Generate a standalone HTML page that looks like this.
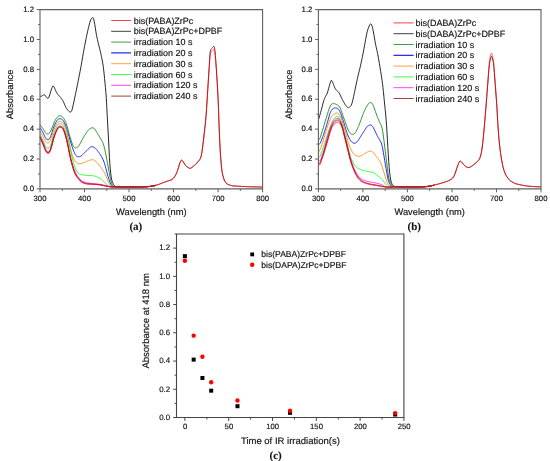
<!DOCTYPE html>
<html><head><meta charset="utf-8"><title>Absorbance</title>
<style>html,body{margin:0;padding:0;background:#fff}svg{display:block}text{font-family:"Liberation Sans",Arial,sans-serif;fill:#111111;stroke:#111111;stroke-width:0.16px;text-rendering:geometricPrecision}.cap{font-family:"Liberation Serif","Times New Roman",serif;font-weight:bold;font-size:11px;fill:#111;stroke-width:0.1px}</style></head><body>
<svg width="550" height="461" viewBox="0 0 550 461">
<rect width="550" height="461" fill="#fff"/>
<g>
<path d="M40.00 96.37 L40.45 96.37 L40.89 96.31 L41.34 96.21 L41.78 96.07 L42.23 95.83 L42.67 95.48 L43.12 95.13 L43.56 94.88 L44.01 94.79 L44.45 94.90 L44.90 95.17 L45.34 95.66 L45.79 96.31 L46.23 96.98 L46.68 97.56 L47.12 97.98 L47.57 98.25 L48.01 98.30 L48.46 97.98 L48.90 97.21 L49.35 96.07 L49.79 94.66 L50.24 93.10 L50.68 91.54 L51.13 90.10 L51.58 88.83 L52.02 87.68 L52.47 86.68 L52.91 86.02 L53.36 86.08 L53.80 86.67 L54.25 87.43 L54.69 88.32 L55.14 89.33 L55.58 90.41 L56.03 91.45 L56.47 92.34 L56.92 93.07 L57.36 93.73 L57.81 94.33 L58.25 94.88 L58.70 95.38 L59.14 95.84 L59.59 96.29 L60.03 96.75 L60.48 97.26 L60.92 97.83 L61.37 98.44 L61.81 99.09 L62.26 99.79 L62.71 100.52 L63.15 101.29 L63.60 102.16 L64.04 103.16 L64.49 104.24 L64.93 105.32 L65.38 106.34 L65.82 107.25 L66.27 108.03 L66.71 108.72 L67.16 109.34 L67.60 109.91 L68.05 110.45 L68.49 110.98 L68.94 111.43 L69.38 111.76 L69.83 111.96 L70.27 112.03 L70.72 111.96 L71.16 111.58 L71.61 110.84 L72.05 109.66 L72.50 107.99 L72.94 106.05 L73.39 104.06 L73.84 102.03 L74.28 99.96 L74.73 97.85 L75.17 95.70 L75.62 93.54 L76.06 91.38 L76.51 89.21 L76.95 87.04 L77.40 84.85 L77.84 82.65 L78.29 80.43 L78.73 78.20 L79.18 75.94 L79.62 73.66 L80.07 71.36 L80.51 69.04 L80.96 66.70 L81.40 64.26 L81.85 61.71 L82.29 59.08 L82.74 56.44 L83.18 53.84 L83.63 51.34 L84.07 48.93 L84.52 46.57 L84.97 44.24 L85.41 41.97 L85.86 39.73 L86.30 37.54 L86.75 35.39 L87.19 33.31 L87.64 31.32 L88.08 29.40 L88.53 27.54 L88.97 25.70 L89.42 23.95 L89.86 22.35 L90.31 20.93 L90.75 19.79 L91.20 18.94 L91.64 18.25 L92.09 17.74 L92.53 17.52 L92.98 17.62 L93.42 18.35 L93.87 19.82 L94.31 21.88 L94.76 24.35 L95.20 27.17 L95.65 30.11 L96.10 32.94 L96.54 35.39 L96.99 37.53 L97.43 39.58 L97.88 41.55 L98.32 43.45 L98.77 45.27 L99.21 47.03 L99.66 48.75 L100.10 50.50 L100.55 52.31 L100.99 54.28 L101.44 56.41 L101.88 58.64 L102.33 60.95 L102.77 63.43 L103.22 66.35 L103.66 69.81 L104.11 73.90 L104.55 78.46 L105.00 83.12 L105.44 87.53 L105.89 92.37 L106.33 98.57 L106.78 106.73 L107.23 115.68 L107.67 123.96 L108.12 131.94 L108.56 140.00 L109.01 149.06 L109.45 157.40 L109.90 164.35 L110.34 169.77 L110.79 173.96 L111.23 177.23 L111.68 179.61 L112.12 181.13 L112.57 182.30 L113.01 183.40 L113.46 184.36 L113.90 185.13 L114.35 185.63 L114.79 185.94 L115.24 186.24 L115.68 186.51 L116.13 186.73 L116.57 186.85 L117.02 186.86 L117.46 186.87 L117.91 186.87 L118.36 186.88 L118.80 186.88 L119.25 186.89 L119.69 186.89 L120.14 186.89 L120.58 186.90 L121.03 186.90 L121.47 186.91 L121.92 186.91 L122.36 186.91 L122.81 186.92 L123.25 186.92 L123.70 186.92 L124.14 186.93 L124.59 186.93 L125.03 186.93 L125.48 186.93 L125.92 186.94 L126.37 186.94 L126.81 186.94 L127.26 186.94 L127.70 186.94 L128.15 186.94 L128.59 186.94 L129.04 186.93 L129.49 186.93 L129.93 186.93 L130.38 186.93 L130.82 186.93 L131.27 186.93 L131.71 186.92 L132.16 186.92 L132.60 186.92 L133.05 186.92 L133.49 186.92 L133.94 186.91 L134.38 186.91 L134.83 186.91 L135.27 186.91 L135.72 186.91 L136.16 186.90 L136.61 186.90 L137.05 186.90 L137.50 186.90 L137.94 186.89 L138.39 186.89 L138.83 186.89 L139.28 186.88 L139.72 186.88 L140.17 186.88 L140.62 186.87 L141.06 186.87 L141.51 186.87 L141.95 186.86 L142.40 186.86 L142.84 186.85 L143.29 186.85 L143.73 186.84 L144.18 186.82 L144.62 186.81 L145.07 186.79 L145.51 186.77 L145.96 186.75 L146.40 186.72 L146.85 186.70 L147.29 186.66 L147.74 186.63 L148.18 186.60 L148.63 186.56 L149.07 186.51 L149.52 186.47 L149.96 186.42 L150.41 186.37 L150.85 186.32 L151.30 186.26 L151.75 186.20 L152.19 186.13 L152.64 186.06 L153.08 185.97 L153.53 185.88 L153.97 185.78 L154.42 185.68 L154.86 185.57 L155.31 185.45 L155.75 185.33" fill="none" stroke="#000000" stroke-width="0.85" stroke-linejoin="round"/>
<path d="M40.00 124.39 L40.45 124.97 L40.89 125.57 L41.34 126.19 L41.78 126.83 L42.23 127.47 L42.67 128.12 L43.12 128.81 L43.56 129.56 L44.01 130.34 L44.45 131.13 L44.90 131.89 L45.34 132.59 L45.79 133.17 L46.23 133.57 L46.68 133.83 L47.12 133.96 L47.57 133.99 L48.01 133.94 L48.46 133.79 L48.90 133.51 L49.35 133.11 L49.79 132.57 L50.24 131.91 L50.68 131.10 L51.13 130.15 L51.58 129.06 L52.02 127.88 L52.47 126.65 L52.91 125.42 L53.36 124.23 L53.80 123.13 L54.25 122.16 L54.69 121.28 L55.14 120.44 L55.58 119.65 L56.03 118.91 L56.47 118.23 L56.92 117.62 L57.36 117.08 L57.81 116.64 L58.25 116.30 L58.70 116.07 L59.14 115.93 L59.59 115.86 L60.03 115.86 L60.48 115.90 L60.92 115.98 L61.37 116.13 L61.81 116.36 L62.26 116.66 L62.71 117.05 L63.15 117.54 L63.60 118.12 L64.04 118.81 L64.49 119.60 L64.93 120.50 L65.38 121.50 L65.82 122.61 L66.27 123.82 L66.71 125.14 L67.16 126.58 L67.60 128.13 L68.05 129.75 L68.49 131.41 L68.94 133.09 L69.38 134.73 L69.83 136.32 L70.27 137.81 L70.72 139.22 L71.16 140.57 L71.61 141.86 L72.05 143.08 L72.50 144.22 L72.94 145.27 L73.39 146.17 L73.84 146.87 L74.28 147.39 L74.73 147.73 L75.17 147.92 L75.62 147.95 L76.06 147.89 L76.51 147.76 L76.95 147.58 L77.40 147.31 L77.84 146.96 L78.29 146.51 L78.73 145.95 L79.18 145.27 L79.62 144.50 L80.07 143.70 L80.51 142.86 L80.96 142.01 L81.40 141.15 L81.85 140.29 L82.29 139.44 L82.74 138.62 L83.18 137.82 L83.63 137.07 L84.07 136.34 L84.52 135.61 L84.97 134.89 L85.41 134.18 L85.86 133.48 L86.30 132.80 L86.75 132.15 L87.19 131.52 L87.64 130.92 L88.08 130.36 L88.53 129.86 L88.97 129.44 L89.42 129.09 L89.86 128.79 L90.31 128.52 L90.75 128.27 L91.20 128.06 L91.64 127.91 L92.09 127.83 L92.53 127.82 L92.98 127.87 L93.42 127.98 L93.87 128.18 L94.31 128.50 L94.76 128.97 L95.20 129.61 L95.65 130.36 L96.10 131.10 L96.54 131.85 L96.99 132.59 L97.43 133.34 L97.88 134.08 L98.32 134.83 L98.77 135.58 L99.21 136.32 L99.66 137.07 L100.10 137.81 L100.55 138.56 L100.99 139.31 L101.44 140.08 L101.88 140.87 L102.33 141.67 L102.77 142.50 L103.22 143.55 L103.66 144.89 L104.11 146.49 L104.55 148.31 L105.00 150.33 L105.44 152.48 L105.89 154.68 L106.33 156.94 L106.78 159.23 L107.23 161.56 L107.67 163.93 L108.12 166.36 L108.56 168.83 L109.01 171.30 L109.45 173.73 L109.90 176.09 L110.34 178.30 L110.79 180.30 L111.23 182.06 L111.68 183.52 L112.12 184.63 L112.57 185.43 L113.01 185.99 L113.46 186.35 L113.90 186.56 L114.35 186.71 L114.79 186.86 L115.24 186.97 L115.68 187.01 L116.13 187.01 L116.57 187.00 L117.02 187.00 L117.46 187.00 L117.91 187.00 L118.36 186.99 L118.80 186.99 L119.25 186.99 L119.69 186.99 L120.14 186.98 L120.58 186.98 L121.03 186.98 L121.47 186.98 L121.92 186.97 L122.36 186.97 L122.81 186.97 L123.25 186.97 L123.70 186.96 L124.14 186.96 L124.59 186.96 L125.03 186.96 L125.48 186.95 L125.92 186.95 L126.37 186.95 L126.81 186.95 L127.26 186.94 L127.70 186.94 L128.15 186.94 L128.59 186.94 L129.04 186.93 L129.49 186.93 L129.93 186.93 L130.38 186.93 L130.82 186.92 L131.27 186.92 L131.71 186.92 L132.16 186.92 L132.60 186.91 L133.05 186.91 L133.49 186.91 L133.94 186.91 L134.38 186.90 L134.83 186.90 L135.27 186.90 L135.72 186.90 L136.16 186.89 L136.61 186.89 L137.05 186.89 L137.50 186.89 L137.94 186.88 L138.39 186.88 L138.83 186.88 L139.28 186.88 L139.72 186.87 L140.17 186.87 L140.62 186.87 L141.06 186.87 L141.51 186.87 L141.95 186.86 L142.40 186.86 L142.84 186.86 L143.29 186.85 L143.73 186.84 L144.18 186.83 L144.62 186.81 L145.07 186.80 L145.51 186.78 L145.96 186.75 L146.40 186.73 L146.85 186.70 L147.29 186.67 L147.74 186.63 L148.18 186.60 L148.63 186.56 L149.07 186.52 L149.52 186.47 L149.96 186.42 L150.41 186.37 L150.85 186.32 L151.30 186.26 L151.75 186.20 L152.19 186.13 L152.64 186.06 L153.08 185.97 L153.53 185.88 L153.97 185.78 L154.42 185.68 L154.86 185.57 L155.31 185.45 L155.75 185.33" fill="none" stroke="#008000" stroke-width="0.85" stroke-linejoin="round"/>
<path d="M40.00 127.38 L40.45 128.13 L40.89 128.91 L41.34 129.71 L41.78 130.52 L42.23 131.33 L42.67 132.15 L43.12 132.99 L43.56 133.88 L44.01 134.80 L44.45 135.73 L44.90 136.64 L45.34 137.51 L45.79 138.27 L46.23 138.85 L46.68 139.28 L47.12 139.56 L47.57 139.72 L48.01 139.75 L48.46 139.63 L48.90 139.31 L49.35 138.80 L49.79 138.13 L50.24 137.30 L50.68 136.32 L51.13 135.19 L51.58 133.90 L52.02 132.52 L52.47 131.08 L52.91 129.65 L53.36 128.28 L53.80 127.00 L54.25 125.88 L54.69 124.88 L55.14 123.92 L55.58 123.01 L56.03 122.17 L56.47 121.40 L56.92 120.71 L57.36 120.12 L57.81 119.62 L58.25 119.24 L58.70 118.97 L59.14 118.80 L59.59 118.71 L60.03 118.69 L60.48 118.73 L60.92 118.81 L61.37 118.94 L61.81 119.16 L62.26 119.48 L62.71 119.93 L63.15 120.52 L63.60 121.24 L64.04 122.06 L64.49 122.98 L64.93 123.99 L65.38 125.09 L65.82 126.27 L66.27 127.53 L66.71 128.87 L67.16 130.27 L67.60 131.72 L68.05 133.22 L68.49 134.75 L68.94 136.29 L69.38 137.84 L69.83 139.37 L70.27 140.88 L70.72 142.35 L71.16 143.78 L71.61 145.15 L72.05 146.50 L72.50 147.80 L72.94 149.06 L73.39 150.26 L73.84 151.40 L74.28 152.47 L74.73 153.47 L75.17 154.34 L75.62 155.05 L76.06 155.63 L76.51 156.07 L76.95 156.40 L77.40 156.61 L77.84 156.72 L78.29 156.75 L78.73 156.72 L79.18 156.68 L79.62 156.61 L80.07 156.49 L80.51 156.33 L80.96 156.10 L81.40 155.79 L81.85 155.40 L82.29 154.96 L82.74 154.52 L83.18 154.07 L83.63 153.62 L84.07 153.17 L84.52 152.72 L84.97 152.27 L85.41 151.82 L85.86 151.37 L86.30 150.93 L86.75 150.49 L87.19 150.06 L87.64 149.62 L88.08 149.19 L88.53 148.77 L88.97 148.34 L89.42 147.92 L89.86 147.50 L90.31 147.15 L90.75 146.90 L91.20 146.76 L91.64 146.69 L92.09 146.70 L92.53 146.76 L92.98 146.86 L93.42 147.02 L93.87 147.23 L94.31 147.48 L94.76 147.78 L95.20 148.14 L95.65 148.54 L96.10 148.99 L96.54 149.49 L96.99 150.01 L97.43 150.56 L97.88 151.13 L98.32 151.72 L98.77 152.34 L99.21 152.96 L99.66 153.61 L100.10 154.28 L100.55 154.98 L100.99 155.70 L101.44 156.46 L101.88 157.25 L102.33 158.07 L102.77 158.93 L103.22 159.90 L103.66 161.00 L104.11 162.23 L104.55 163.58 L105.00 165.05 L105.44 166.64 L105.89 168.35 L106.33 170.10 L106.78 171.84 L107.23 173.50 L107.67 175.06 L108.12 176.56 L108.56 178.02 L109.01 179.44 L109.45 180.80 L109.90 182.04 L110.34 183.16 L110.79 184.12 L111.23 184.91 L111.68 185.52 L112.12 185.97 L112.57 186.26 L113.01 186.48 L113.46 186.69 L113.90 186.85 L114.35 186.97 L114.79 187.01 L115.24 187.01 L115.68 187.00 L116.13 187.00 L116.57 187.00 L117.02 187.00 L117.46 187.00 L117.91 186.99 L118.36 186.99 L118.80 186.99 L119.25 186.99 L119.69 186.98 L120.14 186.98 L120.58 186.98 L121.03 186.98 L121.47 186.97 L121.92 186.97 L122.36 186.97 L122.81 186.97 L123.25 186.97 L123.70 186.96 L124.14 186.96 L124.59 186.96 L125.03 186.96 L125.48 186.95 L125.92 186.95 L126.37 186.95 L126.81 186.95 L127.26 186.94 L127.70 186.94 L128.15 186.94 L128.59 186.94 L129.04 186.93 L129.49 186.93 L129.93 186.93 L130.38 186.93 L130.82 186.92 L131.27 186.92 L131.71 186.92 L132.16 186.92 L132.60 186.91 L133.05 186.91 L133.49 186.91 L133.94 186.91 L134.38 186.91 L134.83 186.90 L135.27 186.90 L135.72 186.90 L136.16 186.90 L136.61 186.89 L137.05 186.89 L137.50 186.89 L137.94 186.89 L138.39 186.88 L138.83 186.88 L139.28 186.88 L139.72 186.88 L140.17 186.87 L140.62 186.87 L141.06 186.87 L141.51 186.87 L141.95 186.86 L142.40 186.86 L142.84 186.86 L143.29 186.85 L143.73 186.84 L144.18 186.83 L144.62 186.81 L145.07 186.80 L145.51 186.78 L145.96 186.75 L146.40 186.73 L146.85 186.70 L147.29 186.67 L147.74 186.63 L148.18 186.60 L148.63 186.56 L149.07 186.52 L149.52 186.47 L149.96 186.42 L150.41 186.37 L150.85 186.32 L151.30 186.26 L151.75 186.20 L152.19 186.13 L152.64 186.06 L153.08 185.97 L153.53 185.88 L153.97 185.78 L154.42 185.68 L154.86 185.57 L155.31 185.45 L155.75 185.33" fill="none" stroke="#0000ff" stroke-width="0.85" stroke-linejoin="round"/>
<path d="M40.00 131.10 L40.45 131.91 L40.89 132.73 L41.34 133.55 L41.78 134.38 L42.23 135.20 L42.67 136.02 L43.12 136.85 L43.56 137.70 L44.01 138.55 L44.45 139.40 L44.90 140.25 L45.34 141.09 L45.79 141.82 L46.23 142.35 L46.68 142.71 L47.12 142.93 L47.57 143.03 L48.01 143.03 L48.46 142.90 L48.90 142.57 L49.35 142.08 L49.79 141.41 L50.24 140.58 L50.68 139.60 L51.13 138.45 L51.58 137.13 L52.02 135.71 L52.47 134.23 L52.91 132.75 L53.36 131.32 L53.80 130.01 L54.25 128.87 L54.69 127.84 L55.14 126.87 L55.58 125.94 L56.03 125.08 L56.47 124.30 L56.92 123.59 L57.36 122.97 L57.81 122.46 L58.25 122.05 L58.70 121.75 L59.14 121.56 L59.59 121.44 L60.03 121.40 L60.48 121.41 L60.92 121.49 L61.37 121.65 L61.81 121.90 L62.26 122.24 L62.71 122.67 L63.15 123.20 L63.60 123.81 L64.04 124.50 L64.49 125.29 L64.93 126.23 L65.38 127.32 L65.82 128.60 L66.27 130.10 L66.71 131.85 L67.16 133.74 L67.60 135.66 L68.05 137.61 L68.49 139.57 L68.94 141.54 L69.38 143.54 L69.83 145.56 L70.27 147.58 L70.72 149.57 L71.16 151.47 L71.61 153.10 L72.05 154.48 L72.50 155.68 L72.94 156.76 L73.39 157.78 L73.84 158.75 L74.28 159.63 L74.73 160.42 L75.17 161.11 L75.62 161.66 L76.06 162.14 L76.51 162.57 L76.95 162.95 L77.40 163.26 L77.84 163.50 L78.29 163.64 L78.73 163.69 L79.18 163.71 L79.62 163.71 L80.07 163.69 L80.51 163.65 L80.96 163.57 L81.40 163.45 L81.85 163.32 L82.29 163.18 L82.74 163.04 L83.18 162.89 L83.63 162.74 L84.07 162.58 L84.52 162.41 L84.97 162.23 L85.41 162.05 L85.86 161.85 L86.30 161.65 L86.75 161.45 L87.19 161.25 L87.64 161.05 L88.08 160.85 L88.53 160.66 L88.97 160.47 L89.42 160.30 L89.86 160.15 L90.31 160.02 L90.75 159.92 L91.20 159.84 L91.64 159.78 L92.09 159.74 L92.53 159.73 L92.98 159.76 L93.42 159.85 L93.87 160.00 L94.31 160.22 L94.76 160.49 L95.20 160.83 L95.65 161.22 L96.10 161.66 L96.54 162.15 L96.99 162.64 L97.43 163.14 L97.88 163.65 L98.32 164.17 L98.77 164.71 L99.21 165.25 L99.66 165.81 L100.10 166.36 L100.55 166.93 L100.99 167.50 L101.44 168.08 L101.88 168.67 L102.33 169.29 L102.77 169.94 L103.22 170.62 L103.66 171.34 L104.11 172.11 L104.55 172.96 L105.00 173.89 L105.44 174.85 L105.89 175.83 L106.33 176.85 L106.78 177.94 L107.23 179.07 L107.67 180.20 L108.12 181.28 L108.56 182.29 L109.01 183.18 L109.45 183.96 L109.90 184.62 L110.34 185.17 L110.79 185.62 L111.23 185.98 L111.68 186.30 L112.12 186.57 L112.57 186.78 L113.01 186.93 L113.46 187.00 L113.90 187.01 L114.35 186.94 L114.79 186.84 L115.24 186.75 L115.68 186.71 L116.13 186.72 L116.57 186.72 L117.02 186.73 L117.46 186.74 L117.91 186.74 L118.36 186.75 L118.80 186.76 L119.25 186.77 L119.69 186.78 L120.14 186.79 L120.58 186.80 L121.03 186.81 L121.47 186.82 L121.92 186.83 L122.36 186.84 L122.81 186.85 L123.25 186.86 L123.70 186.87 L124.14 186.88 L124.59 186.89 L125.03 186.89 L125.48 186.90 L125.92 186.91 L126.37 186.92 L126.81 186.92 L127.26 186.93 L127.70 186.93 L128.15 186.93 L128.59 186.93 L129.04 186.93 L129.49 186.93 L129.93 186.93 L130.38 186.93 L130.82 186.93 L131.27 186.93 L131.71 186.93 L132.16 186.93 L132.60 186.93 L133.05 186.93 L133.49 186.93 L133.94 186.93 L134.38 186.92 L134.83 186.92 L135.27 186.92 L135.72 186.92 L136.16 186.91 L136.61 186.91 L137.05 186.91 L137.50 186.91 L137.94 186.90 L138.39 186.90 L138.83 186.90 L139.28 186.89 L139.72 186.89 L140.17 186.88 L140.62 186.88 L141.06 186.88 L141.51 186.87 L141.95 186.87 L142.40 186.86 L142.84 186.85 L143.29 186.85 L143.73 186.83 L144.18 186.82 L144.62 186.81 L145.07 186.79 L145.51 186.77 L145.96 186.75 L146.40 186.72 L146.85 186.69 L147.29 186.66 L147.74 186.63 L148.18 186.59 L148.63 186.55 L149.07 186.51 L149.52 186.47 L149.96 186.42 L150.41 186.37 L150.85 186.32 L151.30 186.26 L151.75 186.20 L152.19 186.13 L152.64 186.06 L153.08 185.97 L153.53 185.88 L153.97 185.78 L154.42 185.68 L154.86 185.57 L155.31 185.45 L155.75 185.33" fill="none" stroke="#ff8000" stroke-width="0.85" stroke-linejoin="round"/>
<path d="M40.00 134.38 L40.45 135.31 L40.89 136.25 L41.34 137.19 L41.78 138.14 L42.23 139.10 L42.67 140.05 L43.12 141.01 L43.56 142.01 L44.01 143.01 L44.45 144.03 L44.90 145.03 L45.34 146.01 L45.79 146.87 L46.23 147.52 L46.68 147.99 L47.12 148.30 L47.57 148.48 L48.01 148.55 L48.46 148.45 L48.90 148.14 L49.35 147.61 L49.79 146.88 L50.24 145.94 L50.68 144.82 L51.13 143.50 L51.58 142.00 L52.02 140.39 L52.47 138.73 L52.91 137.06 L53.36 135.44 L53.80 133.93 L54.25 132.59 L54.69 131.37 L55.14 130.19 L55.58 129.06 L56.03 128.00 L56.47 127.02 L56.92 126.13 L57.36 125.35 L57.81 124.69 L58.25 124.18 L58.70 123.83 L59.14 123.61 L59.59 123.49 L60.03 123.47 L60.48 123.50 L60.92 123.57 L61.37 123.70 L61.81 123.93 L62.26 124.30 L62.71 124.83 L63.15 125.59 L63.60 126.52 L64.04 127.55 L64.49 128.68 L64.93 129.91 L65.38 131.22 L65.82 132.61 L66.27 134.06 L66.71 135.58 L67.16 137.12 L67.60 138.68 L68.05 140.29 L68.49 141.98 L68.94 143.78 L69.38 145.67 L69.83 147.62 L70.27 149.58 L70.72 151.53 L71.16 153.43 L71.61 155.30 L72.05 157.14 L72.50 158.94 L72.94 160.71 L73.39 162.43 L73.84 164.03 L74.28 165.46 L74.73 166.76 L75.17 167.95 L75.62 169.06 L76.06 170.08 L76.51 170.99 L76.95 171.77 L77.40 172.40 L77.84 172.92 L78.29 173.38 L78.73 173.74 L79.18 173.98 L79.62 174.14 L80.07 174.29 L80.51 174.43 L80.96 174.56 L81.40 174.68 L81.85 174.78 L82.29 174.88 L82.74 174.98 L83.18 175.07 L83.63 175.14 L84.07 175.18 L84.52 175.22 L84.97 175.26 L85.41 175.29 L85.86 175.32 L86.30 175.36 L86.75 175.39 L87.19 175.41 L87.64 175.44 L88.08 175.47 L88.53 175.50 L88.97 175.53 L89.42 175.56 L89.86 175.57 L90.31 175.59 L90.75 175.60 L91.20 175.62 L91.64 175.63 L92.09 175.65 L92.53 175.68 L92.98 175.71 L93.42 175.75 L93.87 175.84 L94.31 175.96 L94.76 176.12 L95.20 176.29 L95.65 176.49 L96.10 176.68 L96.54 176.87 L96.99 177.06 L97.43 177.25 L97.88 177.45 L98.32 177.66 L98.77 177.88 L99.21 178.12 L99.66 178.37 L100.10 178.64 L100.55 178.93 L100.99 179.24 L101.44 179.57 L101.88 179.92 L102.33 180.30 L102.77 180.70 L103.22 181.10 L103.66 181.51 L104.11 181.92 L104.55 182.33 L105.00 182.74 L105.44 183.13 L105.89 183.53 L106.33 183.92 L106.78 184.31 L107.23 184.69 L107.67 185.07 L108.12 185.41 L108.56 185.70 L109.01 185.95 L109.45 186.17 L109.90 186.38 L110.34 186.57 L110.79 186.74 L111.23 186.88 L111.68 186.97 L112.12 187.01 L112.57 187.00 L113.01 186.97 L113.46 186.92 L113.90 186.86 L114.35 186.80 L114.79 186.75 L115.24 186.72 L115.68 186.71 L116.13 186.72 L116.57 186.72 L117.02 186.73 L117.46 186.74 L117.91 186.74 L118.36 186.75 L118.80 186.76 L119.25 186.77 L119.69 186.78 L120.14 186.79 L120.58 186.80 L121.03 186.81 L121.47 186.82 L121.92 186.83 L122.36 186.84 L122.81 186.85 L123.25 186.86 L123.70 186.86 L124.14 186.87 L124.59 186.88 L125.03 186.89 L125.48 186.90 L125.92 186.90 L126.37 186.91 L126.81 186.92 L127.26 186.92 L127.70 186.93 L128.15 186.93 L128.59 186.93 L129.04 186.93 L129.49 186.94 L129.93 186.94 L130.38 186.94 L130.82 186.94 L131.27 186.94 L131.71 186.94 L132.16 186.94 L132.60 186.94 L133.05 186.93 L133.49 186.93 L133.94 186.93 L134.38 186.93 L134.83 186.93 L135.27 186.92 L135.72 186.92 L136.16 186.92 L136.61 186.92 L137.05 186.91 L137.50 186.91 L137.94 186.91 L138.39 186.90 L138.83 186.90 L139.28 186.89 L139.72 186.89 L140.17 186.88 L140.62 186.88 L141.06 186.88 L141.51 186.87 L141.95 186.87 L142.40 186.86 L142.84 186.85 L143.29 186.85 L143.73 186.83 L144.18 186.82 L144.62 186.81 L145.07 186.79 L145.51 186.77 L145.96 186.75 L146.40 186.72 L146.85 186.69 L147.29 186.66 L147.74 186.63 L148.18 186.59 L148.63 186.55 L149.07 186.51 L149.52 186.47 L149.96 186.42 L150.41 186.37 L150.85 186.32 L151.30 186.26 L151.75 186.20 L152.19 186.13 L152.64 186.06 L153.08 185.97 L153.53 185.88 L153.97 185.78 L154.42 185.68 L154.86 185.57 L155.31 185.45 L155.75 185.33" fill="none" stroke="#00ff00" stroke-width="0.85" stroke-linejoin="round"/>
<path d="M40.00 136.02 L40.45 136.98 L40.89 137.96 L41.34 138.96 L41.78 139.96 L42.23 140.97 L42.67 141.99 L43.12 143.03 L43.56 144.12 L44.01 145.24 L44.45 146.36 L44.90 147.47 L45.34 148.55 L45.79 149.50 L46.23 150.27 L46.68 150.87 L47.12 151.32 L47.57 151.63 L48.01 151.83 L48.46 151.83 L48.90 151.58 L49.35 151.09 L49.79 150.36 L50.24 149.41 L50.68 148.25 L51.13 146.88 L51.58 145.33 L52.02 143.66 L52.47 141.93 L52.91 140.19 L53.36 138.52 L53.80 136.96 L54.25 135.58 L54.69 134.32 L55.14 133.10 L55.58 131.93 L56.03 130.83 L56.47 129.81 L56.92 128.89 L57.36 128.07 L57.81 127.38 L58.25 126.84 L58.70 126.46 L59.14 126.21 L59.59 126.08 L60.03 126.03 L60.48 126.03 L60.92 126.10 L61.37 126.24 L61.81 126.49 L62.26 126.87 L62.71 127.41 L63.15 128.12 L63.60 129.02 L64.04 130.07 L64.49 131.27 L64.93 132.61 L65.38 134.06 L65.82 135.62 L66.27 137.27 L66.71 139.00 L67.16 140.85 L67.60 142.85 L68.05 144.94 L68.49 147.11 L68.94 149.31 L69.38 151.50 L69.83 153.64 L70.27 155.70 L70.72 157.65 L71.16 159.43 L71.61 161.10 L72.05 162.74 L72.50 164.32 L72.94 165.83 L73.39 167.27 L73.84 168.63 L74.28 169.89 L74.73 171.04 L75.17 172.07 L75.62 172.98 L76.06 173.78 L76.51 174.52 L76.95 175.22 L77.40 175.86 L77.84 176.46 L78.29 177.02 L78.73 177.56 L79.18 178.11 L79.62 178.65 L80.07 179.17 L80.51 179.66 L80.96 180.09 L81.40 180.47 L81.85 180.78 L82.29 181.06 L82.74 181.31 L83.18 181.53 L83.63 181.74 L84.07 181.92 L84.52 182.09 L84.97 182.26 L85.41 182.43 L85.86 182.59 L86.30 182.74 L86.75 182.87 L87.19 182.96 L87.64 183.01 L88.08 183.05 L88.53 183.10 L88.97 183.14 L89.42 183.19 L89.86 183.23 L90.31 183.28 L90.75 183.32 L91.20 183.37 L91.64 183.41 L92.09 183.46 L92.53 183.50 L92.98 183.55 L93.42 183.59 L93.87 183.64 L94.31 183.68 L94.76 183.73 L95.20 183.77 L95.65 183.82 L96.10 183.86 L96.54 183.91 L96.99 183.96 L97.43 184.00 L97.88 184.05 L98.32 184.09 L98.77 184.14 L99.21 184.18 L99.66 184.24 L100.10 184.31 L100.55 184.39 L100.99 184.48 L101.44 184.59 L101.88 184.70 L102.33 184.81 L102.77 184.93 L103.22 185.05 L103.66 185.17 L104.11 185.29 L104.55 185.40 L105.00 185.51 L105.44 185.61 L105.89 185.71 L106.33 185.82 L106.78 185.92 L107.23 186.02 L107.67 186.13 L108.12 186.23 L108.56 186.33 L109.01 186.44 L109.45 186.54 L109.90 186.64 L110.34 186.74 L110.79 186.84 L111.23 186.92 L111.68 186.97 L112.12 186.98 L112.57 186.97 L113.01 186.94 L113.46 186.89 L113.90 186.84 L114.35 186.79 L114.79 186.75 L115.24 186.72 L115.68 186.71 L116.13 186.72 L116.57 186.72 L117.02 186.73 L117.46 186.74 L117.91 186.75 L118.36 186.75 L118.80 186.76 L119.25 186.77 L119.69 186.78 L120.14 186.79 L120.58 186.80 L121.03 186.81 L121.47 186.81 L121.92 186.82 L122.36 186.83 L122.81 186.84 L123.25 186.85 L123.70 186.86 L124.14 186.87 L124.59 186.88 L125.03 186.88 L125.48 186.89 L125.92 186.90 L126.37 186.90 L126.81 186.91 L127.26 186.92 L127.70 186.92 L128.15 186.93 L128.59 186.93 L129.04 186.93 L129.49 186.94 L129.93 186.94 L130.38 186.94 L130.82 186.94 L131.27 186.94 L131.71 186.94 L132.16 186.94 L132.60 186.94 L133.05 186.94 L133.49 186.94 L133.94 186.94 L134.38 186.94 L134.83 186.93 L135.27 186.93 L135.72 186.93 L136.16 186.93 L136.61 186.92 L137.05 186.92 L137.50 186.91 L137.94 186.91 L138.39 186.91 L138.83 186.90 L139.28 186.90 L139.72 186.89 L140.17 186.89 L140.62 186.88 L141.06 186.88 L141.51 186.87 L141.95 186.87 L142.40 186.86 L142.84 186.85 L143.29 186.85 L143.73 186.83 L144.18 186.82 L144.62 186.81 L145.07 186.79 L145.51 186.77 L145.96 186.75 L146.40 186.72 L146.85 186.69 L147.29 186.66 L147.74 186.63 L148.18 186.59 L148.63 186.55 L149.07 186.51 L149.52 186.47 L149.96 186.42 L150.41 186.37 L150.85 186.32 L151.30 186.26 L151.75 186.20 L152.19 186.13 L152.64 186.06 L153.08 185.97 L153.53 185.88 L153.97 185.78 L154.42 185.68 L154.86 185.57 L155.31 185.45 L155.75 185.33" fill="none" stroke="#ff00ff" stroke-width="0.85" stroke-linejoin="round"/>
<path d="M40.00 137.07 L40.45 138.03 L40.89 139.02 L41.34 140.01 L41.78 141.02 L42.23 142.02 L42.67 143.03 L43.12 144.06 L43.56 145.12 L44.01 146.21 L44.45 147.30 L44.90 148.38 L45.34 149.44 L45.79 150.38 L46.23 151.15 L46.68 151.76 L47.12 152.21 L47.57 152.53 L48.01 152.72 L48.46 152.72 L48.90 152.44 L49.35 151.91 L49.79 151.15 L50.24 150.17 L50.68 148.99 L51.13 147.61 L51.58 146.06 L52.02 144.39 L52.47 142.66 L52.91 140.93 L53.36 139.26 L53.80 137.71 L54.25 136.32 L54.69 135.06 L55.14 133.84 L55.58 132.67 L56.03 131.57 L56.47 130.55 L56.92 129.63 L57.36 128.82 L57.81 128.12 L58.25 127.58 L58.70 127.20 L59.14 126.96 L59.59 126.83 L60.03 126.78 L60.48 126.78 L60.92 126.84 L61.37 126.98 L61.81 127.22 L62.26 127.60 L62.71 128.14 L63.15 128.87 L63.60 129.78 L64.04 130.87 L64.49 132.11 L64.93 133.48 L65.38 134.98 L65.82 136.59 L66.27 138.28 L66.71 140.05 L67.16 141.94 L67.60 143.97 L68.05 146.12 L68.49 148.34 L68.94 150.60 L69.38 152.84 L69.83 155.03 L70.27 157.14 L70.72 159.11 L71.16 160.92 L71.61 162.61 L72.05 164.24 L72.50 165.82 L72.94 167.33 L73.39 168.76 L73.84 170.09 L74.28 171.33 L74.73 172.45 L75.17 173.46 L75.62 174.33 L76.06 175.09 L76.51 175.81 L76.95 176.47 L77.40 177.10 L77.84 177.68 L78.29 178.21 L78.73 178.73 L79.18 179.26 L79.62 179.78 L80.07 180.28 L80.51 180.75 L80.96 181.16 L81.40 181.52 L81.85 181.81 L82.29 182.07 L82.74 182.29 L83.18 182.50 L83.63 182.68 L84.07 182.84 L84.52 182.98 L84.97 183.12 L85.41 183.27 L85.86 183.41 L86.30 183.53 L86.75 183.63 L87.19 183.71 L87.64 183.75 L88.08 183.78 L88.53 183.81 L88.97 183.85 L89.42 183.88 L89.86 183.92 L90.31 183.95 L90.75 183.98 L91.20 184.02 L91.64 184.05 L92.09 184.09 L92.53 184.12 L92.98 184.15 L93.42 184.19 L93.87 184.22 L94.31 184.25 L94.76 184.29 L95.20 184.32 L95.65 184.36 L96.10 184.39 L96.54 184.42 L96.99 184.46 L97.43 184.49 L97.88 184.53 L98.32 184.56 L98.77 184.59 L99.21 184.63 L99.66 184.67 L100.10 184.73 L100.55 184.80 L100.99 184.89 L101.44 184.98 L101.88 185.08 L102.33 185.19 L102.77 185.30 L103.22 185.40 L103.66 185.51 L104.11 185.62 L104.55 185.72 L105.00 185.81 L105.44 185.90 L105.89 185.98 L106.33 186.07 L106.78 186.17 L107.23 186.26 L107.67 186.34 L108.12 186.43 L108.56 186.51 L109.01 186.59 L109.45 186.67 L109.90 186.73 L110.34 186.80 L110.79 186.85 L111.23 186.89 L111.68 186.91 L112.12 186.91 L112.57 186.89 L113.01 186.86 L113.46 186.83 L113.90 186.79 L114.35 186.76 L114.79 186.73 L115.24 186.71 L115.68 186.71 L116.13 186.72 L116.57 186.72 L117.02 186.73 L117.46 186.74 L117.91 186.74 L118.36 186.75 L118.80 186.76 L119.25 186.77 L119.69 186.78 L120.14 186.79 L120.58 186.80 L121.03 186.80 L121.47 186.81 L121.92 186.82 L122.36 186.83 L122.81 186.84 L123.25 186.85 L123.70 186.86 L124.14 186.87 L124.59 186.87 L125.03 186.88 L125.48 186.89 L125.92 186.90 L126.37 186.90 L126.81 186.91 L127.26 186.92 L127.70 186.92 L128.15 186.93 L128.59 186.93 L129.04 186.93 L129.49 186.94 L129.93 186.94 L130.38 186.94 L130.82 186.94 L131.27 186.94 L131.71 186.94 L132.16 186.94 L132.60 186.94 L133.05 186.94 L133.49 186.94 L133.94 186.94 L134.38 186.94 L134.83 186.93 L135.27 186.93 L135.72 186.93 L136.16 186.93 L136.61 186.92 L137.05 186.92 L137.50 186.91 L137.94 186.91 L138.39 186.91 L138.83 186.90 L139.28 186.90 L139.72 186.89 L140.17 186.89 L140.62 186.88 L141.06 186.88 L141.51 186.87 L141.95 186.87 L142.40 186.86 L142.84 186.85 L143.29 186.85 L143.73 186.83 L144.18 186.82 L144.62 186.81 L145.07 186.79 L145.51 186.77 L145.96 186.75 L146.40 186.72 L146.85 186.69 L147.29 186.66 L147.74 186.63 L148.18 186.59 L148.63 186.55 L149.07 186.51 L149.52 186.47 L149.96 186.42 L150.41 186.37 L150.85 186.32 L151.30 186.26 L151.75 186.20 L152.19 186.13 L152.64 186.06 L153.08 185.97 L153.53 185.88 L153.97 185.78 L154.42 185.68 L154.86 185.57 L155.31 185.45 L155.75 185.33 L156.20 185.20 L156.64 185.07 L157.09 184.93 L157.53 184.79 L157.98 184.64 L158.42 184.49 L158.87 184.34 L159.31 184.18 L159.76 184.01 L160.20 183.85 L160.65 183.67 L161.09 183.50 L161.54 183.32 L161.98 183.15 L162.43 182.97 L162.88 182.79 L163.32 182.61 L163.77 182.44 L164.21 182.26 L164.66 182.09 L165.10 181.92 L165.55 181.76 L165.99 181.61 L166.44 181.46 L166.88 181.31 L167.33 181.17 L167.77 181.03 L168.22 180.89 L168.66 180.74 L169.11 180.60 L169.55 180.46 L170.00 180.31 L170.44 180.17 L170.89 180.01 L171.33 179.85 L171.78 179.65 L172.22 179.37 L172.67 179.01 L173.11 178.58 L173.56 178.09 L174.01 177.54 L174.45 176.93 L174.90 176.28 L175.34 175.53 L175.79 174.67 L176.23 173.70 L176.68 172.65 L177.12 171.53 L177.57 170.34 L178.01 169.12 L178.46 167.75 L178.90 166.21 L179.35 164.64 L179.79 163.20 L180.24 162.01 L180.68 161.12 L181.13 160.47 L181.57 160.17 L182.02 160.30 L182.46 160.70 L182.91 161.21 L183.35 161.86 L183.80 162.63 L184.24 163.47 L184.69 164.27 L185.14 164.94 L185.58 165.49 L186.03 165.95 L186.47 166.36 L186.92 166.72 L187.36 167.04 L187.81 167.33 L188.25 167.62 L188.70 167.88 L189.14 168.10 L189.59 168.25 L190.03 168.30 L190.48 168.22 L190.92 168.05 L191.37 167.83 L191.81 167.55 L192.26 167.24 L192.70 166.90 L193.15 166.53 L193.59 166.14 L194.04 165.73 L194.48 165.32 L194.93 164.89 L195.37 164.46 L195.82 164.03 L196.27 163.59 L196.71 163.16 L197.16 162.70 L197.60 162.21 L198.05 161.69 L198.49 161.15 L198.94 160.59 L199.38 160.01 L199.83 159.43 L200.27 158.67 L200.72 157.54 L201.16 155.96 L201.61 153.88 L202.05 151.23 L202.50 148.09 L202.94 144.64 L203.39 140.94 L203.83 137.08 L204.28 133.13 L204.72 129.17 L205.17 125.19 L205.61 120.85 L206.06 115.77 L206.50 109.73 L206.95 102.95 L207.40 95.74 L207.84 88.44 L208.29 81.16 L208.73 73.97 L209.18 66.83 L209.62 59.60 L210.07 53.00 L210.51 50.22 L210.96 49.34 L211.40 48.82 L211.85 48.36 L212.29 47.84 L212.74 47.34 L213.18 46.88 L213.63 46.48 L214.07 46.28 L214.52 47.52 L214.96 50.58 L215.41 55.48 L215.85 61.50 L216.30 68.19 L216.74 75.20 L217.19 82.36 L217.63 89.98 L218.08 98.31 L218.53 109.27 L218.97 122.93 L219.42 134.03 L219.86 143.68 L220.31 152.05 L220.75 158.68 L221.20 163.91 L221.64 168.27 L222.09 171.69 L222.53 174.04 L222.98 175.81 L223.42 177.48 L223.87 178.97 L224.31 180.19 L224.76 181.05 L225.20 181.70 L225.65 182.35 L226.09 182.97 L226.54 183.50 L226.98 183.92 L227.43 184.18 L227.87 184.35 L228.32 184.52 L228.76 184.69 L229.21 184.86 L229.66 185.02 L230.10 185.18 L230.55 185.33 L230.99 185.46 L231.44 185.59 L231.88 185.70 L232.33 185.80 L232.77 185.87 L233.22 185.93 L233.66 185.97 L234.11 185.99 L234.55 186.01 L235.00 186.04 L235.44 186.06 L235.89 186.09 L236.33 186.11 L236.78 186.14 L237.22 186.16 L237.67 186.19 L238.11 186.21 L238.56 186.24 L239.00 186.26 L239.45 186.29 L239.89 186.31 L240.34 186.34 L240.79 186.36 L241.23 186.38 L241.68 186.41 L242.12 186.43 L242.57 186.45 L243.01 186.47 L243.46 186.50 L243.90 186.52 L244.35 186.54 L244.79 186.56 L245.24 186.58 L245.68 186.59 L246.13 186.61 L246.57 186.63 L247.02 186.64 L247.46 186.66 L247.91 186.67 L248.35 186.69 L248.80 186.70 L249.24 186.71 L249.69 186.72 L250.13 186.73 L250.58 186.75 L251.02 186.76 L251.47 186.77 L251.92 186.78 L252.36 186.79 L252.81 186.80 L253.25 186.82 L253.70 186.83 L254.14 186.84 L254.59 186.85 L255.03 186.86 L255.48 186.87 L255.92 186.89 L256.37 186.90 L256.81 186.91 L257.26 186.92 L257.70 186.93 L258.15 186.94 L258.59 186.95 L259.04 186.96 L259.48 186.96 L259.93 186.97 L260.37 186.98 L260.82 186.99 L261.26 186.99 L261.71 187.00 L262.15 187.00 L262.60 187.01" fill="none" stroke="#800000" stroke-width="0.85" stroke-linejoin="round"/>
<path d="M40.00 137.81 L40.45 138.76 L40.89 139.74 L41.34 140.73 L41.78 141.74 L42.23 142.76 L42.67 143.78 L43.12 144.83 L43.56 145.95 L44.01 147.10 L44.45 148.26 L44.90 149.39 L45.34 150.48 L45.79 151.43 L46.23 152.17 L46.68 152.72 L47.12 153.11 L47.57 153.35 L48.01 153.47 L48.46 153.41 L48.90 153.11 L49.35 152.59 L49.79 151.85 L50.24 150.90 L50.68 149.74 L51.13 148.37 L51.58 146.82 L52.02 145.14 L52.47 143.41 L52.91 141.68 L53.36 140.01 L53.80 138.45 L54.25 137.07 L54.69 135.81 L55.14 134.60 L55.58 133.44 L56.03 132.35 L56.47 131.34 L56.92 130.41 L57.36 129.58 L57.81 128.87 L58.25 128.30 L58.70 127.89 L59.14 127.61 L59.59 127.45 L60.03 127.38 L60.48 127.38 L60.92 127.44 L61.37 127.59 L61.81 127.86 L62.26 128.28 L62.71 128.85 L63.15 129.61 L63.60 130.55 L64.04 131.65 L64.49 132.90 L64.93 134.27 L65.38 135.76 L65.82 137.35 L66.27 139.03 L66.71 140.79 L67.16 142.68 L67.60 144.71 L68.05 146.86 L68.49 149.08 L68.94 151.34 L69.38 153.58 L69.83 155.78 L70.27 157.88 L70.72 159.86 L71.16 161.66 L71.61 163.35 L72.05 164.98 L72.50 166.56 L72.94 168.06 L73.39 169.48 L73.84 170.81 L74.28 172.04 L74.73 173.15 L75.17 174.15 L75.62 175.00 L76.06 175.75 L76.51 176.45 L76.95 177.10 L77.40 177.71 L77.84 178.28 L78.29 178.81 L78.73 179.32 L79.18 179.85 L79.62 180.36 L80.07 180.86 L80.51 181.32 L80.96 181.73 L81.40 182.08 L81.85 182.36 L82.29 182.60 L82.74 182.82 L83.18 183.00 L83.63 183.17 L84.07 183.31 L84.52 183.43 L84.97 183.55 L85.41 183.67 L85.86 183.78 L86.30 183.89 L86.75 183.97 L87.19 184.04 L87.64 184.07 L88.08 184.10 L88.53 184.13 L88.97 184.16 L89.42 184.19 L89.86 184.21 L90.31 184.23 L90.75 184.26 L91.20 184.28 L91.64 184.31 L92.09 184.34 L92.53 184.36 L92.98 184.39 L93.42 184.42 L93.87 184.45 L94.31 184.48 L94.76 184.51 L95.20 184.54 L95.65 184.57 L96.10 184.60 L96.54 184.63 L96.99 184.66 L97.43 184.70 L97.88 184.74 L98.32 184.78 L98.77 184.83 L99.21 184.88 L99.66 184.94 L100.10 185.01 L100.55 185.09 L100.99 185.16 L101.44 185.24 L101.88 185.33 L102.33 185.42 L102.77 185.50 L103.22 185.59 L103.66 185.68 L104.11 185.77 L104.55 185.85 L105.00 185.93 L105.44 186.01 L105.89 186.09 L106.33 186.17 L106.78 186.25 L107.23 186.32 L107.67 186.40 L108.12 186.48 L108.56 186.55 L109.01 186.62 L109.45 186.69 L109.90 186.76 L110.34 186.81 L110.79 186.87 L111.23 186.91 L111.68 186.92 L112.12 186.92 L112.57 186.90 L113.01 186.87 L113.46 186.84 L113.90 186.80 L114.35 186.76 L114.79 186.73 L115.24 186.71 L115.68 186.71 L116.13 186.72 L116.57 186.72 L117.02 186.73 L117.46 186.74 L117.91 186.74 L118.36 186.75 L118.80 186.76 L119.25 186.77 L119.69 186.78 L120.14 186.79 L120.58 186.79 L121.03 186.80 L121.47 186.81 L121.92 186.82 L122.36 186.83 L122.81 186.84 L123.25 186.85 L123.70 186.86 L124.14 186.87 L124.59 186.87 L125.03 186.88 L125.48 186.89 L125.92 186.90 L126.37 186.90 L126.81 186.91 L127.26 186.92 L127.70 186.92 L128.15 186.93 L128.59 186.93 L129.04 186.93 L129.49 186.94 L129.93 186.94 L130.38 186.94 L130.82 186.94 L131.27 186.94 L131.71 186.94 L132.16 186.94 L132.60 186.94 L133.05 186.94 L133.49 186.94 L133.94 186.94 L134.38 186.94 L134.83 186.93 L135.27 186.93 L135.72 186.93 L136.16 186.93 L136.61 186.92 L137.05 186.92 L137.50 186.91 L137.94 186.91 L138.39 186.91 L138.83 186.90 L139.28 186.90 L139.72 186.89 L140.17 186.89 L140.62 186.88 L141.06 186.88 L141.51 186.87 L141.95 186.87 L142.40 186.86 L142.84 186.85 L143.29 186.85 L143.73 186.83 L144.18 186.82 L144.62 186.81 L145.07 186.79 L145.51 186.77 L145.96 186.75 L146.40 186.72 L146.85 186.69 L147.29 186.66 L147.74 186.63 L148.18 186.59 L148.63 186.55 L149.07 186.51 L149.52 186.47 L149.96 186.42 L150.41 186.37 L150.85 186.32 L151.30 186.26 L151.75 186.20 L152.19 186.13 L152.64 186.06 L153.08 185.97 L153.53 185.88 L153.97 185.78 L154.42 185.68 L154.86 185.57 L155.31 185.45 L155.75 185.33" fill="none" stroke="#ff0000" stroke-width="0.85" stroke-linejoin="round"/>
<path d="M155.75 185.33 L156.20 185.20 L156.64 185.07 L157.09 184.93 L157.53 184.79 L157.98 184.64 L158.42 184.49 L158.87 184.34 L159.31 184.18 L159.76 184.01 L160.20 183.85 L160.65 183.67 L161.09 183.50 L161.54 183.32 L161.98 183.15 L162.43 182.97 L162.88 182.79 L163.32 182.61 L163.77 182.44 L164.21 182.26 L164.66 182.09 L165.10 181.92 L165.55 181.76 L165.99 181.61 L166.44 181.46 L166.88 181.31 L167.33 181.17 L167.77 181.03 L168.22 180.89 L168.66 180.74 L169.11 180.60 L169.55 180.46 L170.00 180.31 L170.44 180.17 L170.89 180.01 L171.33 179.85 L171.78 179.65 L172.22 179.37 L172.67 179.01 L173.11 178.58 L173.56 178.09 L174.01 177.54 L174.45 176.93 L174.90 176.28 L175.34 175.53 L175.79 174.67 L176.23 173.70 L176.68 172.65 L177.12 171.53 L177.57 170.34 L178.01 169.12 L178.46 167.75 L178.90 166.21 L179.35 164.64 L179.79 163.20 L180.24 162.01 L180.68 161.12 L181.13 160.47 L181.57 160.17 L182.02 160.30 L182.46 160.70 L182.91 161.21 L183.35 161.86 L183.80 162.63 L184.24 163.47 L184.69 164.27 L185.14 164.94 L185.58 165.49 L186.03 165.95 L186.47 166.36 L186.92 166.72 L187.36 167.04 L187.81 167.33 L188.25 167.62 L188.70 167.88 L189.14 168.10 L189.59 168.25 L190.03 168.30 L190.48 168.22 L190.92 168.05 L191.37 167.83 L191.81 167.55 L192.26 167.24 L192.70 166.90 L193.15 166.53 L193.59 166.14 L194.04 165.73 L194.48 165.32 L194.93 164.89 L195.37 164.46 L195.82 164.03 L196.27 163.59 L196.71 163.16 L197.16 162.70 L197.60 162.21 L198.05 161.69 L198.49 161.15 L198.94 160.59 L199.38 160.01 L199.83 159.43 L200.27 158.67 L200.72 157.54 L201.16 155.96 L201.61 153.88 L202.05 151.23 L202.50 148.09 L202.94 144.64 L203.39 140.94 L203.83 137.08 L204.28 133.13 L204.72 129.17 L205.17 125.19 L205.61 120.85 L206.06 115.75 L206.50 109.62 L206.95 102.86 L207.40 95.76 L207.84 88.20 L208.29 81.16 L208.73 74.95 L209.18 69.00 L209.62 62.82 L210.07 56.46 L210.51 53.01 L210.96 51.91 L211.40 51.68 L211.85 51.44 L212.29 50.93 L212.74 50.43 L213.18 49.97 L213.63 49.59 L214.07 49.46 L214.52 50.94 L214.96 53.92 L215.41 57.97 L215.85 63.04 L216.30 68.88 L216.74 75.20 L217.19 81.99 L217.63 89.59 L218.08 98.22 L218.53 109.44 L218.97 122.97 L219.42 134.03 L219.86 143.68 L220.31 152.05 L220.75 158.68 L221.20 163.91 L221.64 168.27 L222.09 171.69 L222.53 174.04 L222.98 175.81 L223.42 177.48 L223.87 178.97 L224.31 180.19 L224.76 181.05 L225.20 181.70 L225.65 182.35 L226.09 182.97 L226.54 183.50 L226.98 183.92 L227.43 184.18 L227.87 184.35 L228.32 184.52 L228.76 184.69 L229.21 184.86 L229.66 185.02 L230.10 185.18 L230.55 185.33 L230.99 185.46 L231.44 185.59 L231.88 185.70 L232.33 185.80 L232.77 185.87 L233.22 185.93 L233.66 185.97 L234.11 185.99 L234.55 186.01 L235.00 186.04 L235.44 186.06 L235.89 186.09 L236.33 186.11 L236.78 186.14 L237.22 186.16 L237.67 186.19 L238.11 186.21 L238.56 186.24 L239.00 186.26 L239.45 186.29 L239.89 186.31 L240.34 186.34 L240.79 186.36 L241.23 186.38 L241.68 186.41 L242.12 186.43 L242.57 186.45 L243.01 186.47 L243.46 186.50 L243.90 186.52 L244.35 186.54 L244.79 186.56 L245.24 186.58 L245.68 186.59 L246.13 186.61 L246.57 186.63 L247.02 186.64 L247.46 186.66 L247.91 186.67 L248.35 186.69 L248.80 186.70 L249.24 186.71 L249.69 186.72 L250.13 186.73 L250.58 186.75 L251.02 186.76 L251.47 186.77 L251.92 186.78 L252.36 186.79 L252.81 186.80 L253.25 186.82 L253.70 186.83 L254.14 186.84 L254.59 186.85 L255.03 186.86 L255.48 186.87 L255.92 186.89 L256.37 186.90 L256.81 186.91 L257.26 186.92 L257.70 186.93 L258.15 186.94 L258.59 186.95 L259.04 186.96 L259.48 186.96 L259.93 186.97 L260.37 186.98 L260.82 186.99 L261.26 186.99 L261.71 187.00 L262.15 187.00 L262.60 187.01" fill="none" stroke="#ff0000" stroke-width="0.85" stroke-linejoin="round" stroke-opacity="0.68"/>
<path d="M40.0 9.6H262.6V188.9H40.0Z" fill="none" stroke="#606060" stroke-width="1.1"/>
<path d="M40.0 188.90h-3.3 M40.0 173.96h-1.9 M40.0 159.02h-3.3 M40.0 144.07h-1.9 M40.0 129.13h-3.3 M40.0 114.19h-1.9 M40.0 99.25h-3.3 M40.0 84.31h-1.9 M40.0 69.37h-3.3 M40.0 54.42h-1.9 M40.0 39.48h-3.3 M40.0 24.54h-1.9 M40.0 9.60h-3.3 M40.00 188.9v3.4 M62.26 188.9v2.0 M84.52 188.9v3.4 M106.78 188.9v2.0 M129.04 188.9v3.4 M151.30 188.9v2.0 M173.56 188.9v3.4 M195.82 188.9v2.0 M218.08 188.9v3.4 M240.34 188.9v2.0 M262.60 188.9v3.4" stroke="#606060" stroke-width="1" fill="none"/>
<text x="34.0" y="191.0" font-size="7.8" text-anchor="end">0.0</text>
<text x="34.0" y="161.1" font-size="7.8" text-anchor="end">0.2</text>
<text x="34.0" y="131.2" font-size="7.8" text-anchor="end">0.4</text>
<text x="34.0" y="101.3" font-size="7.8" text-anchor="end">0.6</text>
<text x="34.0" y="71.5" font-size="7.8" text-anchor="end">0.8</text>
<text x="34.0" y="41.6" font-size="7.8" text-anchor="end">1.0</text>
<text x="34.0" y="11.7" font-size="7.8" text-anchor="end">1.2</text>
<text x="40.0" y="201.0" font-size="7.7" text-anchor="middle">300</text>
<text x="84.5" y="201.0" font-size="7.7" text-anchor="middle">400</text>
<text x="129.0" y="201.0" font-size="7.7" text-anchor="middle">500</text>
<text x="173.6" y="201.0" font-size="7.7" text-anchor="middle">600</text>
<text x="218.1" y="201.0" font-size="7.7" text-anchor="middle">700</text>
<text x="262.6" y="201.0" font-size="7.7" text-anchor="middle">800</text>
<text x="151.3" y="215" font-size="9.3" text-anchor="middle">Wavelength (nm)</text>
<text transform="translate(12.8 94.4) rotate(-90)" font-size="9.3" text-anchor="middle">Absorbance</text>
<path d="M111.2 20.50H131.0" stroke="#ff0000" stroke-width="0.75"/>
<text x="133.8" y="23.6" font-size="8.95">bis(PABA)ZrPc</text>
<path d="M111.2 31.30H131.0" stroke="#000000" stroke-width="0.75"/>
<text x="133.8" y="34.4" font-size="8.95">bis(PABA)ZrPc+DPBF</text>
<path d="M111.2 42.10H131.0" stroke="#008000" stroke-width="0.75"/>
<text x="133.8" y="45.2" font-size="8.95">irradiation 10 s</text>
<path d="M111.2 52.90H131.0" stroke="#0000ff" stroke-width="1.05"/>
<text x="133.8" y="56.0" font-size="8.95">irradiation 20 s</text>
<path d="M111.2 63.70H131.0" stroke="#ff8000" stroke-width="0.75"/>
<text x="133.8" y="66.8" font-size="8.95">irradiation 30 s</text>
<path d="M111.2 74.50H131.0" stroke="#00ff00" stroke-width="0.75"/>
<text x="133.8" y="77.6" font-size="8.95">irradiation 60 s</text>
<path d="M111.2 85.30H131.0" stroke="#ff00ff" stroke-width="0.75"/>
<text x="133.8" y="88.4" font-size="8.95">irradiation 120 s</text>
<path d="M111.2 96.10H131.0" stroke="#800000" stroke-width="0.75"/>
<text x="133.8" y="99.2" font-size="8.95">irradiation 240 s</text>
<text class="cap" x="135.8" y="229.5" text-anchor="middle">(a)</text>
</g>
<g>
<path d="M318.40 119.92 L318.85 118.48 L319.29 117.00 L319.74 115.50 L320.18 113.96 L320.63 112.38 L321.07 110.77 L321.52 109.14 L321.96 107.50 L322.41 105.78 L322.85 104.03 L323.30 102.33 L323.74 100.78 L324.19 99.46 L324.63 98.39 L325.08 97.42 L325.52 96.51 L325.97 95.65 L326.41 94.87 L326.86 94.06 L327.30 93.01 L327.75 91.63 L328.19 90.05 L328.64 88.42 L329.08 86.80 L329.53 85.24 L329.98 83.71 L330.42 82.22 L330.87 81.02 L331.31 80.40 L331.76 80.59 L332.20 81.33 L332.65 82.35 L333.09 83.48 L333.54 84.59 L333.98 85.69 L334.43 86.79 L334.87 87.83 L335.32 88.75 L335.76 89.47 L336.21 90.00 L336.65 90.43 L337.10 90.85 L337.54 91.23 L337.99 91.56 L338.43 91.95 L338.88 92.54 L339.32 93.30 L339.77 94.16 L340.21 95.11 L340.66 96.09 L341.11 97.07 L341.55 98.02 L342.00 98.90 L342.44 99.73 L342.89 100.55 L343.33 101.37 L343.78 102.17 L344.22 102.96 L344.67 103.74 L345.11 104.49 L345.56 105.20 L346.00 105.80 L346.45 106.32 L346.89 106.80 L347.34 107.22 L347.78 107.52 L348.23 107.68 L348.67 107.67 L349.12 107.44 L349.56 107.07 L350.01 106.65 L350.45 106.27 L350.90 105.83 L351.34 105.13 L351.79 103.98 L352.24 102.44 L352.68 100.68 L353.13 98.75 L353.57 96.72 L354.02 94.62 L354.46 92.52 L354.91 90.38 L355.35 88.22 L355.80 86.04 L356.24 83.89 L356.69 81.79 L357.13 79.77 L357.58 77.82 L358.02 75.94 L358.47 74.10 L358.91 72.28 L359.36 70.47 L359.80 68.63 L360.25 66.75 L360.69 64.81 L361.14 62.80 L361.58 60.70 L362.03 58.55 L362.47 56.37 L362.92 54.17 L363.37 51.92 L363.81 49.55 L364.26 47.09 L364.70 44.58 L365.15 42.08 L365.59 39.61 L366.04 37.22 L366.48 34.94 L366.93 32.91 L367.37 31.18 L367.82 29.68 L368.26 28.35 L368.71 27.15 L369.15 26.00 L369.60 25.01 L370.04 24.33 L370.49 23.97 L370.93 23.95 L371.38 24.35 L371.82 25.26 L372.27 26.74 L372.71 28.64 L373.16 30.73 L373.60 33.00 L374.05 35.46 L374.50 38.10 L374.94 40.77 L375.39 43.30 L375.83 45.53 L376.28 47.51 L376.72 49.40 L377.17 51.37 L377.61 53.58 L378.06 55.99 L378.50 58.47 L378.95 60.99 L379.39 63.57 L379.84 66.19 L380.28 68.87 L380.73 71.59 L381.17 74.36 L381.62 77.32 L382.06 80.46 L382.51 83.78 L382.95 87.43 L383.40 91.60 L383.84 96.13 L384.29 100.69 L384.73 105.13 L385.18 109.51 L385.63 113.96 L386.07 119.04 L386.52 125.09 L386.96 131.85 L387.41 139.46 L387.85 147.46 L388.30 154.79 L388.74 161.51 L389.19 167.53 L389.63 172.36 L390.08 176.10 L390.52 179.04 L390.97 181.05 L391.41 182.46 L391.86 183.68 L392.30 184.63 L392.75 185.22 L393.19 185.61 L393.64 185.98 L394.08 186.32 L394.53 186.60 L394.97 186.79 L395.42 186.86 L395.86 186.86 L396.31 186.87 L396.76 186.87 L397.20 186.88 L397.65 186.88 L398.09 186.89 L398.54 186.89 L398.98 186.90 L399.43 186.90 L399.87 186.91 L400.32 186.91 L400.76 186.91 L401.21 186.92 L401.65 186.92 L402.10 186.92 L402.54 186.93 L402.99 186.93 L403.43 186.93 L403.88 186.93 L404.32 186.94 L404.77 186.94 L405.21 186.94 L405.66 186.94 L406.10 186.94 L406.55 186.94 L406.99 186.94 L407.44 186.93 L407.89 186.93 L408.33 186.93 L408.78 186.93 L409.22 186.93 L409.67 186.93 L410.11 186.92 L410.56 186.92 L411.00 186.92 L411.45 186.92 L411.89 186.92 L412.34 186.92 L412.78 186.91 L413.23 186.91 L413.67 186.91 L414.12 186.91 L414.56 186.91 L415.01 186.90 L415.45 186.90 L415.90 186.90 L416.34 186.90 L416.79 186.89 L417.23 186.89 L417.68 186.89 L418.12 186.88 L418.57 186.88 L419.02 186.88 L419.46 186.87 L419.91 186.87 L420.35 186.86 L420.80 186.86 L421.24 186.85 L421.69 186.85 L422.13 186.83 L422.58 186.82 L423.02 186.80 L423.47 186.79 L423.91 186.76 L424.36 186.74 L424.80 186.71 L425.25 186.67 L425.69 186.64 L426.14 186.60 L426.58 186.55 L427.03 186.50 L427.47 186.45 L427.92 186.39 L428.36 186.33 L428.81 186.26 L429.25 186.19 L429.70 186.11 L430.15 186.03 L430.59 185.95 L431.04 185.86 L431.48 185.76 L431.93 185.67 L432.37 185.57 L432.82 185.47 L433.26 185.36 L433.71 185.25 L434.15 185.14" fill="none" stroke="#000000" stroke-width="0.85" stroke-linejoin="round"/>
<path d="M318.40 140.64 L318.85 140.09 L319.29 139.44 L319.74 138.64 L320.18 137.60 L320.63 136.27 L321.07 134.85 L321.52 133.41 L321.96 131.97 L322.41 130.53 L322.85 129.07 L323.30 127.61 L323.74 126.14 L324.19 124.68 L324.63 123.21 L325.08 121.75 L325.52 120.28 L325.97 118.82 L326.41 117.38 L326.86 115.95 L327.30 114.53 L327.75 113.11 L328.19 111.70 L328.64 110.31 L329.08 109.02 L329.53 107.84 L329.98 106.76 L330.42 105.78 L330.87 105.00 L331.31 104.43 L331.76 104.05 L332.20 103.83 L332.65 103.73 L333.09 103.66 L333.54 103.64 L333.98 103.66 L334.43 103.73 L334.87 103.83 L335.32 103.97 L335.76 104.13 L336.21 104.32 L336.65 104.54 L337.10 104.79 L337.54 105.07 L337.99 105.39 L338.43 105.74 L338.88 106.15 L339.32 106.65 L339.77 107.29 L340.21 108.13 L340.66 109.21 L341.11 110.46 L341.55 111.70 L342.00 112.95 L342.44 114.20 L342.89 115.44 L343.33 116.69 L343.78 117.93 L344.22 119.18 L344.67 120.42 L345.11 121.67 L345.56 122.92 L346.00 124.16 L346.45 125.41 L346.89 126.65 L347.34 127.89 L347.78 129.02 L348.23 130.02 L348.67 130.90 L349.12 131.69 L349.56 132.41 L350.01 133.05 L350.45 133.55 L350.90 133.90 L351.34 134.13 L351.79 134.26 L352.24 134.31 L352.68 134.30 L353.13 134.25 L353.57 134.13 L354.02 133.93 L354.46 133.63 L354.91 133.21 L355.35 132.64 L355.80 131.91 L356.24 131.10 L356.69 130.25 L357.13 129.34 L357.58 128.40 L358.02 127.41 L358.47 126.38 L358.91 125.31 L359.36 124.21 L359.80 123.07 L360.25 121.89 L360.69 120.67 L361.14 119.43 L361.58 118.19 L362.03 116.95 L362.47 115.74 L362.92 114.56 L363.37 113.43 L363.81 112.36 L364.26 111.34 L364.70 110.36 L365.15 109.42 L365.59 108.52 L366.04 107.65 L366.48 106.80 L366.93 106.01 L367.37 105.31 L367.82 104.66 L368.26 104.07 L368.71 103.52 L369.15 103.06 L369.60 102.73 L370.04 102.54 L370.49 102.47 L370.93 102.52 L371.38 102.69 L371.82 103.03 L372.27 103.56 L372.71 104.31 L373.16 105.31 L373.60 106.49 L374.05 107.72 L374.50 108.99 L374.94 110.27 L375.39 111.54 L375.83 112.78 L376.28 113.96 L376.72 115.09 L377.17 116.22 L377.61 117.34 L378.06 118.45 L378.50 119.56 L378.95 120.67 L379.39 121.69 L379.84 122.61 L380.28 123.48 L380.73 124.37 L381.17 125.34 L381.62 126.51 L382.06 128.16 L382.51 130.32 L382.95 132.96 L383.40 136.08 L383.84 139.60 L384.29 143.18 L384.73 146.76 L385.18 150.33 L385.63 153.91 L386.07 157.49 L386.52 161.07 L386.96 164.65 L387.41 168.22 L387.85 171.80 L388.30 175.25 L388.74 177.87 L389.19 179.74 L389.63 181.07 L390.08 182.08 L390.52 182.98 L390.97 183.86 L391.41 184.68 L391.86 185.40 L392.30 186.00 L392.75 186.44 L393.19 186.68 L393.64 186.71 L394.08 186.71 L394.53 186.71 L394.97 186.71 L395.42 186.72 L395.86 186.73 L396.31 186.74 L396.76 186.74 L397.20 186.75 L397.65 186.76 L398.09 186.77 L398.54 186.78 L398.98 186.79 L399.43 186.79 L399.87 186.80 L400.32 186.81 L400.76 186.82 L401.21 186.83 L401.65 186.84 L402.10 186.85 L402.54 186.85 L402.99 186.86 L403.43 186.87 L403.88 186.88 L404.32 186.89 L404.77 186.89 L405.21 186.90 L405.66 186.91 L406.10 186.92 L406.55 186.92 L406.99 186.93 L407.44 186.93 L407.89 186.94 L408.33 186.95 L408.78 186.95 L409.22 186.95 L409.67 186.95 L410.11 186.96 L410.56 186.96 L411.00 186.96 L411.45 186.96 L411.89 186.96 L412.34 186.96 L412.78 186.95 L413.23 186.95 L413.67 186.95 L414.12 186.95 L414.56 186.94 L415.01 186.94 L415.45 186.93 L415.90 186.93 L416.34 186.92 L416.79 186.92 L417.23 186.91 L417.68 186.91 L418.12 186.90 L418.57 186.89 L419.02 186.89 L419.46 186.88 L419.91 186.87 L420.35 186.87 L420.80 186.86 L421.24 186.85 L421.69 186.84 L422.13 186.83 L422.58 186.82 L423.02 186.80 L423.47 186.78 L423.91 186.76 L424.36 186.73 L424.80 186.70 L425.25 186.67 L425.69 186.63 L426.14 186.59 L426.58 186.55 L427.03 186.50 L427.47 186.45 L427.92 186.39 L428.36 186.33 L428.81 186.26 L429.25 186.19 L429.70 186.11 L430.15 186.03 L430.59 185.95 L431.04 185.86 L431.48 185.76 L431.93 185.67 L432.37 185.57 L432.82 185.47 L433.26 185.36 L433.71 185.25 L434.15 185.14" fill="none" stroke="#008000" stroke-width="0.85" stroke-linejoin="round"/>
<path d="M318.40 145.12 L318.85 144.78 L319.29 144.36 L319.74 143.81 L320.18 143.11 L320.63 142.22 L321.07 141.23 L321.52 140.15 L321.96 139.00 L322.41 137.82 L322.85 136.61 L323.30 135.38 L323.74 134.08 L324.19 132.74 L324.63 131.37 L325.08 129.97 L325.52 128.55 L325.97 127.12 L326.41 125.67 L326.86 124.23 L327.30 122.76 L327.75 121.20 L328.19 119.59 L328.64 117.96 L329.08 116.36 L329.53 114.84 L329.98 113.48 L330.42 112.31 L330.87 111.34 L331.31 110.54 L331.76 109.89 L332.20 109.38 L332.65 108.98 L333.09 108.65 L333.54 108.39 L333.98 108.20 L334.43 108.07 L334.87 107.99 L335.32 107.95 L335.76 107.96 L336.21 108.01 L336.65 108.11 L337.10 108.27 L337.54 108.49 L337.99 108.79 L338.43 109.20 L338.88 109.74 L339.32 110.42 L339.77 111.27 L340.21 112.30 L340.66 113.42 L341.11 114.59 L341.55 115.82 L342.00 117.09 L342.44 118.40 L342.89 119.74 L343.33 121.10 L343.78 122.51 L344.22 123.97 L344.67 125.46 L345.11 126.95 L345.56 128.43 L346.00 129.88 L346.45 131.28 L346.89 132.60 L347.34 133.85 L347.78 135.01 L348.23 136.10 L348.67 137.11 L349.12 138.04 L349.56 138.90 L350.01 139.68 L350.45 140.38 L350.90 140.98 L351.34 141.51 L351.79 141.96 L352.24 142.34 L352.68 142.65 L353.13 142.90 L353.57 143.09 L354.02 143.22 L354.46 143.26 L354.91 143.20 L355.35 143.06 L355.80 142.85 L356.24 142.55 L356.69 142.14 L357.13 141.64 L357.58 141.13 L358.02 140.57 L358.47 139.97 L358.91 139.30 L359.36 138.60 L359.80 137.90 L360.25 137.20 L360.69 136.50 L361.14 135.79 L361.58 135.09 L362.03 134.39 L362.47 133.69 L362.92 132.99 L363.37 132.29 L363.81 131.59 L364.26 130.88 L364.70 130.18 L365.15 129.48 L365.59 128.78 L366.04 128.08 L366.48 127.38 L366.93 126.77 L367.37 126.32 L367.82 125.99 L368.26 125.74 L368.71 125.52 L369.15 125.29 L369.60 125.07 L370.04 124.93 L370.49 124.90 L370.93 124.99 L371.38 125.22 L371.82 125.57 L372.27 126.04 L372.71 126.62 L373.16 127.32 L373.60 128.12 L374.05 129.00 L374.50 129.91 L374.94 130.85 L375.39 131.81 L375.83 132.77 L376.28 133.73 L376.72 134.67 L377.17 135.58 L377.61 136.43 L378.06 137.22 L378.50 137.98 L378.95 138.71 L379.39 139.44 L379.84 140.19 L380.28 140.98 L380.73 141.83 L381.17 142.79 L381.62 144.09 L382.06 145.73 L382.51 147.70 L382.95 149.98 L383.40 152.53 L383.84 155.19 L384.29 157.91 L384.73 160.63 L385.18 163.33 L385.63 165.96 L386.07 168.57 L386.52 171.15 L386.96 173.67 L387.41 176.13 L387.85 178.43 L388.30 180.27 L388.74 181.69 L389.19 182.79 L389.63 183.65 L390.08 184.39 L390.52 185.09 L390.97 185.72 L391.41 186.24 L391.86 186.63 L392.30 186.84 L392.75 186.85 L393.19 186.82 L393.64 186.79 L394.08 186.75 L394.53 186.72 L394.97 186.71 L395.42 186.72 L395.86 186.73 L396.31 186.73 L396.76 186.74 L397.20 186.75 L397.65 186.76 L398.09 186.77 L398.54 186.78 L398.98 186.79 L399.43 186.80 L399.87 186.81 L400.32 186.82 L400.76 186.83 L401.21 186.84 L401.65 186.85 L402.10 186.86 L402.54 186.87 L402.99 186.87 L403.43 186.88 L403.88 186.89 L404.32 186.90 L404.77 186.91 L405.21 186.91 L405.66 186.92 L406.10 186.92 L406.55 186.93 L406.99 186.93 L407.44 186.93 L407.89 186.94 L408.33 186.94 L408.78 186.94 L409.22 186.94 L409.67 186.94 L410.11 186.94 L410.56 186.94 L411.00 186.94 L411.45 186.94 L411.89 186.94 L412.34 186.94 L412.78 186.94 L413.23 186.94 L413.67 186.94 L414.12 186.93 L414.56 186.93 L415.01 186.93 L415.45 186.92 L415.90 186.92 L416.34 186.92 L416.79 186.91 L417.23 186.91 L417.68 186.90 L418.12 186.90 L418.57 186.89 L419.02 186.89 L419.46 186.88 L419.91 186.87 L420.35 186.87 L420.80 186.86 L421.24 186.85 L421.69 186.84 L422.13 186.83 L422.58 186.82 L423.02 186.80 L423.47 186.78 L423.91 186.76 L424.36 186.73 L424.80 186.70 L425.25 186.67 L425.69 186.63 L426.14 186.59 L426.58 186.55 L427.03 186.50 L427.47 186.45 L427.92 186.39 L428.36 186.33 L428.81 186.26 L429.25 186.19 L429.70 186.11 L430.15 186.03 L430.59 185.95 L431.04 185.86 L431.48 185.76 L431.93 185.67 L432.37 185.57 L432.82 185.47 L433.26 185.36 L433.71 185.25 L434.15 185.14" fill="none" stroke="#0000ff" stroke-width="0.85" stroke-linejoin="round"/>
<path d="M318.40 152.27 L318.85 151.67 L319.29 150.97 L319.74 150.19 L320.18 149.33 L320.63 148.38 L321.07 147.29 L321.52 146.08 L321.96 144.79 L322.41 143.43 L322.85 141.99 L323.30 140.48 L323.74 138.96 L324.19 137.44 L324.63 135.96 L325.08 134.49 L325.52 133.05 L325.97 131.61 L326.41 130.19 L326.86 128.78 L327.30 127.38 L327.75 125.98 L328.19 124.63 L328.64 123.33 L329.08 122.11 L329.53 120.95 L329.98 119.87 L330.42 118.86 L330.87 117.92 L331.31 117.09 L331.76 116.38 L332.20 115.77 L332.65 115.25 L333.09 114.81 L333.54 114.43 L333.98 114.09 L334.43 113.78 L334.87 113.52 L335.32 113.31 L335.76 113.16 L336.21 113.05 L336.65 113.00 L337.10 113.00 L337.54 113.09 L337.99 113.28 L338.43 113.58 L338.88 113.98 L339.32 114.50 L339.77 115.13 L340.21 115.88 L340.66 116.77 L341.11 117.80 L341.55 119.00 L342.00 120.37 L342.44 121.84 L342.89 123.34 L343.33 124.85 L343.78 126.37 L344.22 127.90 L344.67 129.45 L345.11 131.01 L345.56 132.58 L346.00 134.19 L346.45 135.82 L346.89 137.45 L347.34 139.08 L347.78 140.69 L348.23 142.26 L348.67 143.77 L349.12 145.13 L349.56 146.33 L350.01 147.40 L350.45 148.38 L350.90 149.30 L351.34 150.17 L351.79 150.99 L352.24 151.75 L352.68 152.42 L353.13 153.00 L353.57 153.51 L354.02 153.98 L354.46 154.41 L354.91 154.79 L355.35 155.11 L355.80 155.38 L356.24 155.62 L356.69 155.83 L357.13 156.01 L357.58 156.15 L358.02 156.26 L358.47 156.33 L358.91 156.35 L359.36 156.30 L359.80 156.19 L360.25 156.05 L360.69 155.89 L361.14 155.70 L361.58 155.49 L362.03 155.25 L362.47 155.00 L362.92 154.73 L363.37 154.44 L363.81 154.15 L364.26 153.85 L364.70 153.55 L365.15 153.25 L365.59 152.96 L366.04 152.68 L366.48 152.42 L366.93 152.18 L367.37 151.96 L367.82 151.77 L368.26 151.60 L368.71 151.44 L369.15 151.30 L369.60 151.19 L370.04 151.08 L370.49 151.01 L370.93 151.01 L371.38 151.09 L371.82 151.27 L372.27 151.56 L372.71 151.97 L373.16 152.47 L373.60 153.00 L374.05 153.55 L374.50 154.11 L374.94 154.69 L375.39 155.27 L375.83 155.86 L376.28 156.45 L376.72 157.03 L377.17 157.61 L377.61 158.19 L378.06 158.77 L378.50 159.37 L378.95 159.99 L379.39 160.64 L379.84 161.32 L380.28 162.04 L380.73 162.82 L381.17 163.83 L381.62 165.02 L382.06 166.35 L382.51 167.75 L382.95 169.17 L383.40 170.57 L383.84 172.04 L384.29 173.58 L384.73 175.13 L385.18 176.65 L385.63 178.12 L386.07 179.47 L386.52 180.72 L386.96 181.84 L387.41 182.84 L387.85 183.71 L388.30 184.45 L388.74 185.07 L389.19 185.60 L389.63 186.06 L390.08 186.43 L390.52 186.72 L390.97 186.91 L391.41 187.00 L391.86 187.00 L392.30 186.96 L392.75 186.91 L393.19 186.85 L393.64 186.80 L394.08 186.75 L394.53 186.72 L394.97 186.71 L395.42 186.72 L395.86 186.73 L396.31 186.73 L396.76 186.74 L397.20 186.75 L397.65 186.76 L398.09 186.77 L398.54 186.78 L398.98 186.79 L399.43 186.80 L399.87 186.81 L400.32 186.82 L400.76 186.83 L401.21 186.84 L401.65 186.85 L402.10 186.86 L402.54 186.87 L402.99 186.88 L403.43 186.89 L403.88 186.89 L404.32 186.90 L404.77 186.91 L405.21 186.91 L405.66 186.92 L406.10 186.92 L406.55 186.93 L406.99 186.93 L407.44 186.93 L407.89 186.94 L408.33 186.94 L408.78 186.94 L409.22 186.94 L409.67 186.94 L410.11 186.94 L410.56 186.94 L411.00 186.94 L411.45 186.94 L411.89 186.94 L412.34 186.94 L412.78 186.94 L413.23 186.93 L413.67 186.93 L414.12 186.93 L414.56 186.93 L415.01 186.92 L415.45 186.92 L415.90 186.92 L416.34 186.91 L416.79 186.91 L417.23 186.91 L417.68 186.90 L418.12 186.90 L418.57 186.89 L419.02 186.88 L419.46 186.88 L419.91 186.87 L420.35 186.87 L420.80 186.86 L421.24 186.85 L421.69 186.84 L422.13 186.83 L422.58 186.82 L423.02 186.80 L423.47 186.78 L423.91 186.76 L424.36 186.73 L424.80 186.70 L425.25 186.67 L425.69 186.63 L426.14 186.59 L426.58 186.55 L427.03 186.50 L427.47 186.45 L427.92 186.39 L428.36 186.33 L428.81 186.26 L429.25 186.19 L429.70 186.11 L430.15 186.03 L430.59 185.95 L431.04 185.86 L431.48 185.76 L431.93 185.67 L432.37 185.57 L432.82 185.47 L433.26 185.36 L433.71 185.25 L434.15 185.14" fill="none" stroke="#ff8000" stroke-width="0.85" stroke-linejoin="round"/>
<path d="M318.40 157.98 L318.85 157.68 L319.29 157.28 L319.74 156.74 L320.18 156.02 L320.63 155.11 L321.07 154.08 L321.52 152.94 L321.96 151.68 L322.41 150.34 L322.85 148.99 L323.30 147.63 L323.74 146.25 L324.19 144.85 L324.63 143.44 L325.08 142.02 L325.52 140.60 L325.97 139.19 L326.41 137.77 L326.86 136.36 L327.30 134.96 L327.75 133.57 L328.19 132.21 L328.64 130.86 L329.08 129.53 L329.53 128.23 L329.98 126.95 L330.42 125.70 L330.87 124.55 L331.31 123.53 L331.76 122.61 L332.20 121.77 L332.65 121.00 L333.09 120.27 L333.54 119.56 L333.98 118.90 L334.43 118.30 L334.87 117.76 L335.32 117.30 L335.76 116.90 L336.21 116.61 L336.65 116.41 L337.10 116.31 L337.54 116.32 L337.99 116.49 L338.43 116.77 L338.88 117.14 L339.32 117.68 L339.77 118.38 L340.21 119.26 L340.66 120.21 L341.11 121.24 L341.55 122.36 L342.00 123.59 L342.44 124.96 L342.89 126.48 L343.33 128.18 L343.78 129.95 L344.22 131.73 L344.67 133.51 L345.11 135.29 L345.56 137.08 L346.00 138.86 L346.45 140.65 L346.89 142.43 L347.34 144.22 L347.78 146.01 L348.23 147.81 L348.67 149.60 L349.12 151.39 L349.56 153.17 L350.01 154.92 L350.45 156.47 L350.90 157.81 L351.34 158.97 L351.79 160.00 L352.24 160.93 L352.68 161.77 L353.13 162.58 L353.57 163.36 L354.02 164.12 L354.46 164.84 L354.91 165.51 L355.35 166.12 L355.80 166.67 L356.24 167.14 L356.69 167.52 L357.13 167.81 L357.58 168.08 L358.02 168.35 L358.47 168.60 L358.91 168.84 L359.36 169.06 L359.80 169.27 L360.25 169.46 L360.69 169.64 L361.14 169.79 L361.58 169.95 L362.03 170.12 L362.47 170.27 L362.92 170.42 L363.37 170.55 L363.81 170.66 L364.26 170.75 L364.70 170.84 L365.15 170.93 L365.59 171.01 L366.04 171.10 L366.48 171.18 L366.93 171.26 L367.37 171.34 L367.82 171.42 L368.26 171.50 L368.71 171.58 L369.15 171.66 L369.60 171.73 L370.04 171.80 L370.49 171.87 L370.93 171.94 L371.38 172.02 L371.82 172.10 L372.27 172.21 L372.71 172.36 L373.16 172.55 L373.60 172.78 L374.05 173.03 L374.50 173.30 L374.94 173.59 L375.39 173.89 L375.83 174.20 L376.28 174.52 L376.72 174.84 L377.17 175.18 L377.61 175.52 L378.06 175.87 L378.50 176.22 L378.95 176.57 L379.39 176.93 L379.84 177.30 L380.28 177.68 L380.73 178.07 L381.17 178.47 L381.62 178.89 L382.06 179.33 L382.51 179.80 L382.95 180.37 L383.40 181.01 L383.84 181.69 L384.29 182.37 L384.73 183.00 L385.18 183.55 L385.63 184.08 L386.07 184.57 L386.52 185.03 L386.96 185.44 L387.41 185.80 L387.85 186.12 L388.30 186.39 L388.74 186.62 L389.19 186.81 L389.63 186.96 L390.08 187.07 L390.52 187.14 L390.97 187.16 L391.41 187.15 L391.86 187.10 L392.30 187.04 L392.75 186.97 L393.19 186.89 L393.64 186.82 L394.08 186.76 L394.53 186.72 L394.97 186.71 L395.42 186.72 L395.86 186.72 L396.31 186.73 L396.76 186.74 L397.20 186.75 L397.65 186.75 L398.09 186.76 L398.54 186.77 L398.98 186.78 L399.43 186.79 L399.87 186.80 L400.32 186.81 L400.76 186.83 L401.21 186.84 L401.65 186.85 L402.10 186.86 L402.54 186.87 L402.99 186.88 L403.43 186.88 L403.88 186.89 L404.32 186.90 L404.77 186.91 L405.21 186.91 L405.66 186.92 L406.10 186.93 L406.55 186.93 L406.99 186.93 L407.44 186.93 L407.89 186.94 L408.33 186.94 L408.78 186.94 L409.22 186.94 L409.67 186.94 L410.11 186.94 L410.56 186.94 L411.00 186.94 L411.45 186.94 L411.89 186.94 L412.34 186.94 L412.78 186.93 L413.23 186.93 L413.67 186.93 L414.12 186.93 L414.56 186.93 L415.01 186.92 L415.45 186.92 L415.90 186.92 L416.34 186.91 L416.79 186.91 L417.23 186.90 L417.68 186.90 L418.12 186.90 L418.57 186.89 L419.02 186.88 L419.46 186.88 L419.91 186.87 L420.35 186.87 L420.80 186.86 L421.24 186.85 L421.69 186.84 L422.13 186.83 L422.58 186.82 L423.02 186.80 L423.47 186.78 L423.91 186.76 L424.36 186.73 L424.80 186.70 L425.25 186.67 L425.69 186.63 L426.14 186.59 L426.58 186.55 L427.03 186.50 L427.47 186.45 L427.92 186.39 L428.36 186.33 L428.81 186.26 L429.25 186.19 L429.70 186.11 L430.15 186.03 L430.59 185.95 L431.04 185.86 L431.48 185.76 L431.93 185.67 L432.37 185.57 L432.82 185.47 L433.26 185.36 L433.71 185.25 L434.15 185.14" fill="none" stroke="#00ff00" stroke-width="0.85" stroke-linejoin="round"/>
<path d="M318.40 160.62 L318.85 160.86 L319.29 160.94 L319.74 160.80 L320.18 160.37 L320.63 159.62 L321.07 158.65 L321.52 157.55 L321.96 156.32 L322.41 155.05 L322.85 153.75 L323.30 152.39 L323.74 150.93 L324.19 149.36 L324.63 147.68 L325.08 145.95 L325.52 144.19 L325.97 142.43 L326.41 140.70 L326.86 139.04 L327.30 137.47 L327.75 135.95 L328.19 134.48 L328.64 133.04 L329.08 131.65 L329.53 130.31 L329.98 129.01 L330.42 127.75 L330.87 126.56 L331.31 125.45 L331.76 124.41 L332.20 123.46 L332.65 122.59 L333.09 121.81 L333.54 121.11 L333.98 120.52 L334.43 120.01 L334.87 119.58 L335.32 119.21 L335.76 118.88 L336.21 118.61 L336.65 118.42 L337.10 118.30 L337.54 118.25 L337.99 118.27 L338.43 118.41 L338.88 118.70 L339.32 119.16 L339.77 119.80 L340.21 120.67 L340.66 121.71 L341.11 122.87 L341.55 124.16 L342.00 125.55 L342.44 127.05 L342.89 128.65 L343.33 130.36 L343.78 132.11 L344.22 133.87 L344.67 135.63 L345.11 137.38 L345.56 139.15 L346.00 140.91 L346.45 142.68 L346.89 144.45 L347.34 146.22 L347.78 148.01 L348.23 149.79 L348.67 151.57 L349.12 153.35 L349.56 155.12 L350.01 156.86 L350.45 158.47 L350.90 159.96 L351.34 161.33 L351.79 162.62 L352.24 163.83 L352.68 165.00 L353.13 166.14 L353.57 167.24 L354.02 168.31 L354.46 169.32 L354.91 170.28 L355.35 171.20 L355.80 172.05 L356.24 172.85 L356.69 173.59 L357.13 174.29 L357.58 174.95 L358.02 175.58 L358.47 176.18 L358.91 176.73 L359.36 177.23 L359.80 177.67 L360.25 178.06 L360.69 178.42 L361.14 178.76 L361.58 179.09 L362.03 179.39 L362.47 179.67 L362.92 179.92 L363.37 180.13 L363.81 180.30 L364.26 180.45 L364.70 180.59 L365.15 180.74 L365.59 180.88 L366.04 181.01 L366.48 181.13 L366.93 181.24 L367.37 181.34 L367.82 181.44 L368.26 181.53 L368.71 181.63 L369.15 181.72 L369.60 181.81 L370.04 181.91 L370.49 182.00 L370.93 182.09 L371.38 182.18 L371.82 182.27 L372.27 182.35 L372.71 182.44 L373.16 182.53 L373.60 182.61 L374.05 182.70 L374.50 182.78 L374.94 182.87 L375.39 182.96 L375.83 183.04 L376.28 183.13 L376.72 183.23 L377.17 183.33 L377.61 183.43 L378.06 183.54 L378.50 183.66 L378.95 183.79 L379.39 183.92 L379.84 184.05 L380.28 184.19 L380.73 184.33 L381.17 184.49 L381.62 184.70 L382.06 184.94 L382.51 185.19 L382.95 185.45 L383.40 185.69 L383.84 185.92 L384.29 186.11 L384.73 186.28 L385.18 186.44 L385.63 186.59 L386.07 186.73 L386.52 186.85 L386.96 186.95 L387.41 187.04 L387.85 187.10 L388.30 187.14 L388.74 187.16 L389.19 187.15 L389.63 187.14 L390.08 187.11 L390.52 187.07 L390.97 187.03 L391.41 186.98 L391.86 186.93 L392.30 186.88 L392.75 186.83 L393.19 186.79 L393.64 186.76 L394.08 186.73 L394.53 186.71 L394.97 186.71 L395.42 186.72 L395.86 186.72 L396.31 186.73 L396.76 186.74 L397.20 186.75 L397.65 186.75 L398.09 186.76 L398.54 186.77 L398.98 186.78 L399.43 186.79 L399.87 186.80 L400.32 186.81 L400.76 186.82 L401.21 186.83 L401.65 186.84 L402.10 186.85 L402.54 186.86 L402.99 186.87 L403.43 186.88 L403.88 186.89 L404.32 186.90 L404.77 186.90 L405.21 186.91 L405.66 186.92 L406.10 186.92 L406.55 186.93 L406.99 186.93 L407.44 186.93 L407.89 186.94 L408.33 186.94 L408.78 186.94 L409.22 186.94 L409.67 186.94 L410.11 186.94 L410.56 186.94 L411.00 186.94 L411.45 186.94 L411.89 186.94 L412.34 186.94 L412.78 186.94 L413.23 186.94 L413.67 186.93 L414.12 186.93 L414.56 186.93 L415.01 186.93 L415.45 186.92 L415.90 186.92 L416.34 186.91 L416.79 186.91 L417.23 186.91 L417.68 186.90 L418.12 186.90 L418.57 186.89 L419.02 186.89 L419.46 186.88 L419.91 186.87 L420.35 186.87 L420.80 186.86 L421.24 186.85 L421.69 186.84 L422.13 186.83 L422.58 186.82 L423.02 186.80 L423.47 186.78 L423.91 186.76 L424.36 186.73 L424.80 186.70 L425.25 186.67 L425.69 186.63 L426.14 186.59 L426.58 186.55 L427.03 186.50 L427.47 186.45 L427.92 186.39 L428.36 186.33 L428.81 186.26 L429.25 186.19 L429.70 186.11 L430.15 186.03 L430.59 185.95 L431.04 185.86 L431.48 185.76 L431.93 185.67 L432.37 185.57 L432.82 185.47 L433.26 185.36 L433.71 185.25 L434.15 185.14" fill="none" stroke="#ff00ff" stroke-width="0.85" stroke-linejoin="round"/>
<path d="M318.40 163.45 L318.85 163.52 L319.29 163.46 L319.74 163.18 L320.18 162.57 L320.63 161.57 L321.07 160.41 L321.52 159.20 L321.96 157.94 L322.41 156.68 L322.85 155.43 L323.30 154.12 L323.74 152.72 L324.19 151.22 L324.63 149.67 L325.08 148.10 L325.52 146.50 L325.97 144.89 L326.41 143.29 L326.86 141.71 L327.30 140.16 L327.75 138.62 L328.19 137.09 L328.64 135.57 L329.08 134.06 L329.53 132.56 L329.98 131.08 L330.42 129.63 L330.87 128.30 L331.31 127.12 L331.76 126.07 L332.20 125.14 L332.65 124.31 L333.09 123.57 L333.54 122.90 L333.98 122.31 L334.43 121.81 L334.87 121.37 L335.32 121.00 L335.76 120.67 L336.21 120.39 L336.65 120.19 L337.10 120.05 L337.54 119.97 L337.99 119.96 L338.43 120.07 L338.88 120.32 L339.32 120.72 L339.77 121.28 L340.21 122.02 L340.66 122.93 L341.11 123.96 L341.55 125.12 L342.00 126.40 L342.44 127.82 L342.89 129.38 L343.33 131.10 L343.78 132.90 L344.22 134.70 L344.67 136.51 L345.11 138.31 L345.56 140.11 L346.00 141.91 L346.45 143.71 L346.89 145.51 L347.34 147.31 L347.78 149.11 L348.23 150.91 L348.67 152.70 L349.12 154.50 L349.56 156.30 L350.01 158.07 L350.45 159.72 L350.90 161.25 L351.34 162.67 L351.79 164.00 L352.24 165.26 L352.68 166.46 L353.13 167.63 L353.57 168.76 L354.02 169.83 L354.46 170.85 L354.91 171.82 L355.35 172.73 L355.80 173.58 L356.24 174.36 L356.69 175.08 L357.13 175.76 L357.58 176.41 L358.02 177.03 L358.47 177.61 L358.91 178.16 L359.36 178.67 L359.80 179.14 L360.25 179.56 L360.69 179.95 L361.14 180.33 L361.58 180.70 L362.03 181.04 L362.47 181.36 L362.92 181.65 L363.37 181.89 L363.81 182.09 L364.26 182.26 L364.70 182.42 L365.15 182.58 L365.59 182.74 L366.04 182.89 L366.48 183.03 L366.93 183.16 L367.37 183.28 L367.82 183.40 L368.26 183.52 L368.71 183.64 L369.15 183.76 L369.60 183.87 L370.04 183.98 L370.49 184.08 L370.93 184.18 L371.38 184.26 L371.82 184.34 L372.27 184.42 L372.71 184.49 L373.16 184.56 L373.60 184.63 L374.05 184.69 L374.50 184.76 L374.94 184.83 L375.39 184.91 L375.83 184.99 L376.28 185.07 L376.72 185.16 L377.17 185.26 L377.61 185.35 L378.06 185.45 L378.50 185.56 L378.95 185.66 L379.39 185.76 L379.84 185.87 L380.28 185.97 L380.73 186.07 L381.17 186.17 L381.62 186.26 L382.06 186.36 L382.51 186.45 L382.95 186.54 L383.40 186.62 L383.84 186.71 L384.29 186.79 L384.73 186.86 L385.18 186.93 L385.63 186.99 L386.07 187.04 L386.52 187.09 L386.96 187.13 L387.41 187.16 L387.85 187.16 L388.30 187.16 L388.74 187.16 L389.19 187.15 L389.63 187.12 L390.08 187.08 L390.52 187.04 L390.97 187.00 L391.41 186.95 L391.86 186.91 L392.30 186.86 L392.75 186.82 L393.19 186.78 L393.64 186.75 L394.08 186.73 L394.53 186.71 L394.97 186.71 L395.42 186.72 L395.86 186.72 L396.31 186.73 L396.76 186.74 L397.20 186.74 L397.65 186.75 L398.09 186.76 L398.54 186.77 L398.98 186.78 L399.43 186.79 L399.87 186.80 L400.32 186.81 L400.76 186.82 L401.21 186.83 L401.65 186.84 L402.10 186.85 L402.54 186.86 L402.99 186.87 L403.43 186.88 L403.88 186.89 L404.32 186.89 L404.77 186.90 L405.21 186.91 L405.66 186.92 L406.10 186.92 L406.55 186.93 L406.99 186.93 L407.44 186.93 L407.89 186.94 L408.33 186.94 L408.78 186.94 L409.22 186.94 L409.67 186.94 L410.11 186.94 L410.56 186.94 L411.00 186.94 L411.45 186.94 L411.89 186.94 L412.34 186.94 L412.78 186.94 L413.23 186.94 L413.67 186.94 L414.12 186.93 L414.56 186.93 L415.01 186.93 L415.45 186.92 L415.90 186.92 L416.34 186.92 L416.79 186.91 L417.23 186.91 L417.68 186.90 L418.12 186.90 L418.57 186.89 L419.02 186.89 L419.46 186.88 L419.91 186.87 L420.35 186.87 L420.80 186.86 L421.24 186.85 L421.69 186.84 L422.13 186.83 L422.58 186.82 L423.02 186.80 L423.47 186.78 L423.91 186.76 L424.36 186.73 L424.80 186.70 L425.25 186.67 L425.69 186.63 L426.14 186.59 L426.58 186.55 L427.03 186.50 L427.47 186.45 L427.92 186.39 L428.36 186.33 L428.81 186.26 L429.25 186.19 L429.70 186.11 L430.15 186.03 L430.59 185.95 L431.04 185.86 L431.48 185.76 L431.93 185.67 L432.37 185.57 L432.82 185.47 L433.26 185.36 L433.71 185.25 L434.15 185.14 L434.60 185.03 L435.04 184.91 L435.49 184.79 L435.93 184.68 L436.38 184.56 L436.82 184.43 L437.27 184.31 L437.71 184.19 L438.16 184.06 L438.60 183.94 L439.05 183.81 L439.49 183.68 L439.94 183.56 L440.38 183.43 L440.83 183.30 L441.28 183.17 L441.72 183.04 L442.17 182.91 L442.61 182.77 L443.06 182.63 L443.50 182.49 L443.95 182.35 L444.39 182.21 L444.84 182.07 L445.28 181.92 L445.73 181.78 L446.17 181.64 L446.62 181.49 L447.06 181.34 L447.51 181.16 L447.95 180.97 L448.40 180.76 L448.84 180.54 L449.29 180.31 L449.73 180.08 L450.18 179.85 L450.62 179.62 L451.07 179.36 L451.51 179.06 L451.96 178.70 L452.41 178.28 L452.85 177.78 L453.30 177.18 L453.74 176.46 L454.19 175.62 L454.63 174.64 L455.08 173.49 L455.52 172.22 L455.97 170.87 L456.41 169.50 L456.86 168.15 L457.30 166.88 L457.75 165.67 L458.19 164.48 L458.64 163.34 L459.08 162.26 L459.53 161.54 L459.97 161.26 L460.42 161.22 L460.86 161.35 L461.31 161.75 L461.75 162.26 L462.20 162.79 L462.64 163.34 L463.09 163.88 L463.54 164.42 L463.98 164.94 L464.43 165.42 L464.87 165.83 L465.32 166.18 L465.76 166.50 L466.21 166.77 L466.65 167.03 L467.10 167.26 L467.54 167.42 L467.99 167.52 L468.43 167.55 L468.88 167.48 L469.32 167.35 L469.77 167.20 L470.21 167.02 L470.66 166.81 L471.10 166.57 L471.55 166.31 L471.99 166.01 L472.44 165.69 L472.88 165.35 L473.33 164.99 L473.77 164.63 L474.22 164.27 L474.67 163.90 L475.11 163.53 L475.56 163.16 L476.00 162.77 L476.45 162.37 L476.89 161.95 L477.34 161.51 L477.78 161.07 L478.23 160.62 L478.67 160.17 L479.12 159.60 L479.56 158.78 L480.01 157.69 L480.45 156.33 L480.90 154.67 L481.34 152.72 L481.79 150.26 L482.23 147.16 L482.68 143.50 L483.12 139.36 L483.57 134.83 L484.01 130.10 L484.46 125.19 L484.90 119.92 L485.35 114.41 L485.80 108.89 L486.24 103.35 L486.69 97.79 L487.13 92.23 L487.58 86.67 L488.02 81.07 L488.47 75.44 L488.91 69.84 L489.36 64.81 L489.80 61.83 L490.25 59.76 L490.69 57.91 L491.14 56.70 L491.58 56.45 L492.03 57.24 L492.47 58.80 L492.92 60.70 L493.36 62.82 L493.81 66.54 L494.25 72.20 L494.70 77.99 L495.14 83.79 L495.59 89.54 L496.03 95.26 L496.48 100.99 L496.93 107.03 L497.37 115.89 L497.82 123.32 L498.26 129.77 L498.71 135.65 L499.15 140.85 L499.60 145.27 L500.04 149.09 L500.49 152.57 L500.93 155.68 L501.38 158.39 L501.82 160.87 L502.27 163.27 L502.71 165.50 L503.16 167.48 L503.60 169.12 L504.05 170.51 L504.49 171.80 L504.94 172.98 L505.38 174.02 L505.83 174.93 L506.27 175.68 L506.72 176.35 L507.16 177.00 L507.61 177.65 L508.06 178.27 L508.50 178.85 L508.95 179.40 L509.39 179.90 L509.84 180.35 L510.28 180.73 L510.73 181.05 L511.17 181.32 L511.62 181.59 L512.06 181.85 L512.51 182.11 L512.95 182.36 L513.40 182.60 L513.84 182.83 L514.29 183.05 L514.73 183.26 L515.18 183.45 L515.62 183.62 L516.07 183.78 L516.51 183.91 L516.96 184.03 L517.40 184.13 L517.85 184.24 L518.29 184.34 L518.74 184.44 L519.19 184.55 L519.63 184.65 L520.08 184.75 L520.52 184.85 L520.97 184.94 L521.41 185.04 L521.86 185.13 L522.30 185.22 L522.75 185.31 L523.19 185.40 L523.64 185.48 L524.08 185.56 L524.53 185.64 L524.97 185.71 L525.42 185.78 L525.86 185.85 L526.31 185.91 L526.75 185.97 L527.20 186.02 L527.64 186.07 L528.09 186.11 L528.53 186.16 L528.98 186.20 L529.42 186.23 L529.87 186.27 L530.32 186.31 L530.76 186.35 L531.21 186.38 L531.65 186.42 L532.10 186.45 L532.54 186.48 L532.99 186.51 L533.43 186.54 L533.88 186.56 L534.32 186.59 L534.77 186.61 L535.21 186.63 L535.66 186.65 L536.10 186.67 L536.55 186.69 L536.99 186.70 L537.44 186.71 L537.88 186.72 L538.33 186.73 L538.77 186.73 L539.22 186.73 L539.66 186.73 L540.11 186.73 L540.55 186.72 L541.00 186.71" fill="none" stroke="#800000" stroke-width="0.85" stroke-linejoin="round"/>
<path d="M318.40 165.54 L318.85 165.41 L319.29 165.16 L319.74 164.71 L320.18 163.96 L320.63 162.83 L321.07 161.55 L321.52 160.25 L321.96 158.98 L322.41 157.77 L322.85 156.59 L323.30 155.37 L323.74 154.06 L324.19 152.65 L324.63 151.20 L325.08 149.71 L325.52 148.20 L325.97 146.68 L326.41 145.15 L326.86 143.63 L327.30 142.12 L327.75 140.60 L328.19 139.07 L328.64 137.53 L329.08 135.99 L329.53 134.46 L329.98 132.94 L330.42 131.45 L330.87 130.09 L331.31 128.90 L331.76 127.84 L332.20 126.91 L332.65 126.10 L333.09 125.39 L333.54 124.77 L333.98 124.23 L334.43 123.77 L334.87 123.38 L335.32 123.05 L335.76 122.75 L336.21 122.50 L336.65 122.29 L337.10 122.14 L337.54 122.04 L337.99 122.01 L338.43 122.07 L338.88 122.30 L339.32 122.69 L339.77 123.22 L340.21 123.89 L340.66 124.68 L341.11 125.57 L341.55 126.56 L342.00 127.66 L342.44 128.93 L342.89 130.39 L343.33 132.07 L343.78 133.86 L344.22 135.65 L344.67 137.44 L345.11 139.24 L345.56 141.03 L346.00 142.82 L346.45 144.61 L346.89 146.40 L347.34 148.18 L347.78 149.96 L348.23 151.75 L348.67 153.53 L349.12 155.31 L349.56 157.08 L350.01 158.84 L350.45 160.49 L350.90 162.02 L351.34 163.46 L351.79 164.82 L352.24 166.10 L352.68 167.33 L353.13 168.52 L353.57 169.65 L354.02 170.72 L354.46 171.73 L354.91 172.69 L355.35 173.59 L355.80 174.46 L356.24 175.30 L356.69 176.11 L357.13 176.88 L357.58 177.60 L358.02 178.24 L358.47 178.81 L358.91 179.32 L359.36 179.79 L359.80 180.22 L360.25 180.62 L360.69 180.97 L361.14 181.29 L361.58 181.56 L362.03 181.79 L362.47 182.00 L362.92 182.20 L363.37 182.40 L363.81 182.59 L364.26 182.78 L364.70 182.96 L365.15 183.13 L365.59 183.29 L366.04 183.44 L366.48 183.58 L366.93 183.71 L367.37 183.85 L367.82 183.99 L368.26 184.12 L368.71 184.25 L369.15 184.38 L369.60 184.49 L370.04 184.60 L370.49 184.69 L370.93 184.77 L371.38 184.84 L371.82 184.91 L372.27 184.97 L372.71 185.03 L373.16 185.09 L373.60 185.15 L374.05 185.20 L374.50 185.26 L374.94 185.32 L375.39 185.38 L375.83 185.45 L376.28 185.52 L376.72 185.59 L377.17 185.66 L377.61 185.74 L378.06 185.81 L378.50 185.89 L378.95 185.96 L379.39 186.04 L379.84 186.12 L380.28 186.19 L380.73 186.27 L381.17 186.34 L381.62 186.41 L382.06 186.48 L382.51 186.56 L382.95 186.63 L383.40 186.69 L383.84 186.76 L384.29 186.82 L384.73 186.89 L385.18 186.94 L385.63 187.00 L386.07 187.04 L386.52 187.09 L386.96 187.13 L387.41 187.16 L387.85 187.16 L388.30 187.16 L388.74 187.16 L389.19 187.16 L389.63 187.13 L390.08 187.10 L390.52 187.06 L390.97 187.01 L391.41 186.96 L391.86 186.92 L392.30 186.87 L392.75 186.82 L393.19 186.79 L393.64 186.75 L394.08 186.73 L394.53 186.71 L394.97 186.71 L395.42 186.72 L395.86 186.72 L396.31 186.73 L396.76 186.73 L397.20 186.74 L397.65 186.75 L398.09 186.76 L398.54 186.77 L398.98 186.78 L399.43 186.79 L399.87 186.80 L400.32 186.81 L400.76 186.82 L401.21 186.83 L401.65 186.84 L402.10 186.85 L402.54 186.86 L402.99 186.87 L403.43 186.88 L403.88 186.89 L404.32 186.89 L404.77 186.90 L405.21 186.91 L405.66 186.92 L406.10 186.92 L406.55 186.93 L406.99 186.93 L407.44 186.93 L407.89 186.94 L408.33 186.94 L408.78 186.94 L409.22 186.94 L409.67 186.94 L410.11 186.94 L410.56 186.94 L411.00 186.94 L411.45 186.94 L411.89 186.94 L412.34 186.94 L412.78 186.94 L413.23 186.94 L413.67 186.94 L414.12 186.93 L414.56 186.93 L415.01 186.93 L415.45 186.92 L415.90 186.92 L416.34 186.92 L416.79 186.91 L417.23 186.91 L417.68 186.90 L418.12 186.90 L418.57 186.89 L419.02 186.89 L419.46 186.88 L419.91 186.87 L420.35 186.87 L420.80 186.86 L421.24 186.85 L421.69 186.84 L422.13 186.83 L422.58 186.82 L423.02 186.80 L423.47 186.78 L423.91 186.76 L424.36 186.73 L424.80 186.70 L425.25 186.67 L425.69 186.63 L426.14 186.59 L426.58 186.55 L427.03 186.50 L427.47 186.45 L427.92 186.39 L428.36 186.33 L428.81 186.26 L429.25 186.19 L429.70 186.11 L430.15 186.03 L430.59 185.95 L431.04 185.86 L431.48 185.76 L431.93 185.67 L432.37 185.57 L432.82 185.47 L433.26 185.36 L433.71 185.25 L434.15 185.14" fill="none" stroke="#ff0000" stroke-width="0.85" stroke-linejoin="round"/>
<path d="M434.15 185.14 L434.60 185.03 L435.04 184.91 L435.49 184.79 L435.93 184.68 L436.38 184.56 L436.82 184.43 L437.27 184.31 L437.71 184.19 L438.16 184.06 L438.60 183.94 L439.05 183.81 L439.49 183.68 L439.94 183.56 L440.38 183.43 L440.83 183.30 L441.28 183.17 L441.72 183.04 L442.17 182.91 L442.61 182.77 L443.06 182.63 L443.50 182.49 L443.95 182.35 L444.39 182.21 L444.84 182.07 L445.28 181.92 L445.73 181.78 L446.17 181.64 L446.62 181.49 L447.06 181.34 L447.51 181.16 L447.95 180.97 L448.40 180.76 L448.84 180.54 L449.29 180.31 L449.73 180.08 L450.18 179.85 L450.62 179.62 L451.07 179.36 L451.51 179.06 L451.96 178.70 L452.41 178.28 L452.85 177.78 L453.30 177.18 L453.74 176.46 L454.19 175.62 L454.63 174.64 L455.08 173.49 L455.52 172.22 L455.97 170.87 L456.41 169.50 L456.86 168.15 L457.30 166.88 L457.75 165.67 L458.19 164.48 L458.64 163.34 L459.08 162.26 L459.53 161.54 L459.97 161.26 L460.42 161.22 L460.86 161.35 L461.31 161.75 L461.75 162.26 L462.20 162.79 L462.64 163.34 L463.09 163.88 L463.54 164.42 L463.98 164.94 L464.43 165.42 L464.87 165.83 L465.32 166.18 L465.76 166.50 L466.21 166.77 L466.65 167.03 L467.10 167.26 L467.54 167.42 L467.99 167.52 L468.43 167.55 L468.88 167.48 L469.32 167.35 L469.77 167.20 L470.21 167.02 L470.66 166.81 L471.10 166.57 L471.55 166.31 L471.99 166.01 L472.44 165.69 L472.88 165.35 L473.33 164.99 L473.77 164.63 L474.22 164.27 L474.67 163.90 L475.11 163.53 L475.56 163.16 L476.00 162.77 L476.45 162.37 L476.89 161.95 L477.34 161.51 L477.78 161.07 L478.23 160.62 L478.67 160.17 L479.12 159.60 L479.56 158.78 L480.01 157.69 L480.45 156.33 L480.90 154.67 L481.34 152.72 L481.79 150.26 L482.23 147.16 L482.68 143.50 L483.12 139.36 L483.57 134.83 L484.01 130.06 L484.46 125.11 L484.90 119.92 L485.35 114.57 L485.80 109.06 L486.24 103.21 L486.69 96.95 L487.13 90.49 L487.58 84.14 L488.02 78.05 L488.47 72.20 L488.91 66.70 L489.36 61.93 L489.80 58.81 L490.25 56.56 L490.69 54.66 L491.14 53.43 L491.58 53.17 L492.03 53.98 L492.47 55.58 L492.92 57.58 L493.36 59.96 L493.81 63.63 L494.25 68.94 L494.70 74.81 L495.14 81.00 L495.59 87.30 L496.03 93.71 L496.48 100.28 L496.93 107.25 L497.37 115.93 L497.82 123.42 L498.26 129.93 L498.71 135.77 L499.15 140.89 L499.60 145.27 L500.04 149.09 L500.49 152.57 L500.93 155.68 L501.38 158.39 L501.82 160.87 L502.27 163.27 L502.71 165.50 L503.16 167.48 L503.60 169.12 L504.05 170.51 L504.49 171.80 L504.94 172.98 L505.38 174.02 L505.83 174.93 L506.27 175.68 L506.72 176.35 L507.16 177.00 L507.61 177.65 L508.06 178.27 L508.50 178.85 L508.95 179.40 L509.39 179.90 L509.84 180.35 L510.28 180.73 L510.73 181.05 L511.17 181.32 L511.62 181.59 L512.06 181.85 L512.51 182.11 L512.95 182.36 L513.40 182.60 L513.84 182.83 L514.29 183.05 L514.73 183.26 L515.18 183.45 L515.62 183.62 L516.07 183.78 L516.51 183.91 L516.96 184.03 L517.40 184.13 L517.85 184.24 L518.29 184.34 L518.74 184.44 L519.19 184.55 L519.63 184.65 L520.08 184.75 L520.52 184.85 L520.97 184.94 L521.41 185.04 L521.86 185.13 L522.30 185.22 L522.75 185.31 L523.19 185.40 L523.64 185.48 L524.08 185.56 L524.53 185.64 L524.97 185.71 L525.42 185.78 L525.86 185.85 L526.31 185.91 L526.75 185.97 L527.20 186.02 L527.64 186.07 L528.09 186.11 L528.53 186.16 L528.98 186.20 L529.42 186.23 L529.87 186.27 L530.32 186.31 L530.76 186.35 L531.21 186.38 L531.65 186.42 L532.10 186.45 L532.54 186.48 L532.99 186.51 L533.43 186.54 L533.88 186.56 L534.32 186.59 L534.77 186.61 L535.21 186.63 L535.66 186.65 L536.10 186.67 L536.55 186.69 L536.99 186.70 L537.44 186.71 L537.88 186.72 L538.33 186.73 L538.77 186.73 L539.22 186.73 L539.66 186.73 L540.11 186.73 L540.55 186.72 L541.00 186.71" fill="none" stroke="#ff0000" stroke-width="0.85" stroke-linejoin="round" stroke-opacity="0.68"/>
<path d="M318.4 9.6H541.0V188.9H318.4Z" fill="none" stroke="#606060" stroke-width="1.1"/>
<path d="M318.4 188.90h-3.3 M318.4 173.96h-1.9 M318.4 159.02h-3.3 M318.4 144.07h-1.9 M318.4 129.13h-3.3 M318.4 114.19h-1.9 M318.4 99.25h-3.3 M318.4 84.31h-1.9 M318.4 69.37h-3.3 M318.4 54.42h-1.9 M318.4 39.48h-3.3 M318.4 24.54h-1.9 M318.4 9.60h-3.3 M318.40 188.9v3.4 M340.66 188.9v2.0 M362.92 188.9v3.4 M385.18 188.9v2.0 M407.44 188.9v3.4 M429.70 188.9v2.0 M451.96 188.9v3.4 M474.22 188.9v2.0 M496.48 188.9v3.4 M518.74 188.9v2.0 M541.00 188.9v3.4" stroke="#606060" stroke-width="1" fill="none"/>
<text x="312.4" y="191.0" font-size="7.8" text-anchor="end">0.0</text>
<text x="312.4" y="161.1" font-size="7.8" text-anchor="end">0.2</text>
<text x="312.4" y="131.2" font-size="7.8" text-anchor="end">0.4</text>
<text x="312.4" y="101.3" font-size="7.8" text-anchor="end">0.6</text>
<text x="312.4" y="71.5" font-size="7.8" text-anchor="end">0.8</text>
<text x="312.4" y="41.6" font-size="7.8" text-anchor="end">1.0</text>
<text x="312.4" y="11.7" font-size="7.8" text-anchor="end">1.2</text>
<text x="318.4" y="201.0" font-size="7.7" text-anchor="middle">300</text>
<text x="362.9" y="201.0" font-size="7.7" text-anchor="middle">400</text>
<text x="407.4" y="201.0" font-size="7.7" text-anchor="middle">500</text>
<text x="452.0" y="201.0" font-size="7.7" text-anchor="middle">600</text>
<text x="496.5" y="201.0" font-size="7.7" text-anchor="middle">700</text>
<text x="541.0" y="201.0" font-size="7.7" text-anchor="middle">800</text>
<text x="429.7" y="215" font-size="9.3" text-anchor="middle">Wavelength (nm)</text>
<text transform="translate(291.5 94.4) rotate(-90)" font-size="9.3" text-anchor="middle">Absorbance</text>
<path d="M393.5 22.90H413.6" stroke="#ff0000" stroke-width="0.75"/>
<text x="415.6" y="26.0" font-size="8.95">bis(DABA)ZrPc</text>
<path d="M393.5 33.70H413.6" stroke="#000000" stroke-width="0.75"/>
<text x="415.6" y="36.8" font-size="8.95">bis(DABA)ZrPc+DPBF</text>
<path d="M393.5 44.50H413.6" stroke="#008000" stroke-width="0.75"/>
<text x="415.6" y="47.6" font-size="8.95">irradiation 10 s</text>
<path d="M393.5 55.30H413.6" stroke="#0000ff" stroke-width="1.05"/>
<text x="415.6" y="58.4" font-size="8.95">irradiation 20 s</text>
<path d="M393.5 66.10H413.6" stroke="#ff8000" stroke-width="0.75"/>
<text x="415.6" y="69.2" font-size="8.95">irradiation 30 s</text>
<path d="M393.5 76.90H413.6" stroke="#00ff00" stroke-width="0.75"/>
<text x="415.6" y="80.0" font-size="8.95">irradiation 60 s</text>
<path d="M393.5 87.70H413.6" stroke="#ff00ff" stroke-width="0.75"/>
<text x="415.6" y="90.8" font-size="8.95">irradiation 120 s</text>
<path d="M393.5 98.50H413.6" stroke="#800000" stroke-width="0.75"/>
<text x="415.6" y="101.6" font-size="8.95">irradiation 240 s</text>
<text class="cap" x="414.2" y="229.5" text-anchor="middle">(b)</text>
</g>
<g>
<path d="M176.5 234.0H403.9V417.5H176.5Z" fill="none" stroke="#444" stroke-width="1.1"/>
<path d="M176.5 417.50h-3.3 M176.5 403.38h-1.9 M176.5 389.27h-3.3 M176.5 375.15h-1.9 M176.5 361.04h-3.3 M176.5 346.93h-1.9 M176.5 332.81h-3.3 M176.5 318.69h-1.9 M176.5 304.58h-3.3 M176.5 290.46h-1.9 M176.5 276.35h-3.3 M176.5 262.24h-1.9 M176.5 248.12h-3.3 M176.5 234.00h-1.9 M184.90 417.5v3.4 M206.81 417.5v2.0 M228.71 417.5v3.4 M250.62 417.5v2.0 M272.52 417.5v3.4 M294.43 417.5v2.0 M316.33 417.5v3.4 M338.24 417.5v2.0 M360.14 417.5v3.4 M382.04 417.5v2.0 M403.95 417.5v3.4" stroke="#444" stroke-width="1" fill="none"/>
<text x="170.2" y="419.8" font-size="7.9" text-anchor="end">0.0</text>
<text x="170.2" y="391.6" font-size="7.9" text-anchor="end">0.2</text>
<text x="170.2" y="363.3" font-size="7.9" text-anchor="end">0.4</text>
<text x="170.2" y="335.1" font-size="7.9" text-anchor="end">0.6</text>
<text x="170.2" y="306.9" font-size="7.9" text-anchor="end">0.8</text>
<text x="170.2" y="278.7" font-size="7.9" text-anchor="end">1.0</text>
<text x="170.2" y="250.4" font-size="7.9" text-anchor="end">1.2</text>
<text x="185.1" y="429.2" font-size="7.7" text-anchor="middle">0</text>
<text x="228.9" y="429.2" font-size="7.7" text-anchor="middle">50</text>
<text x="272.7" y="429.2" font-size="7.7" text-anchor="middle">100</text>
<text x="316.5" y="429.2" font-size="7.7" text-anchor="middle">150</text>
<text x="360.3" y="429.2" font-size="7.7" text-anchor="middle">200</text>
<text x="404.1" y="429.2" font-size="7.7" text-anchor="middle">250</text>
<text x="290.4" y="443.8" font-size="9.5" text-anchor="middle">Time of IR irradiation(s)</text>
<text transform="translate(148.6 320.8) rotate(-90)" font-size="9.5" text-anchor="middle">Absorbance at 418 nm</text>
<rect x="182.90" y="254.17" width="4.0" height="4.0" fill="#000"/>
<rect x="191.66" y="357.63" width="4.0" height="4.0" fill="#000"/>
<rect x="200.42" y="375.98" width="4.0" height="4.0" fill="#000"/>
<rect x="209.19" y="388.68" width="4.0" height="4.0" fill="#000"/>
<rect x="235.47" y="404.21" width="4.0" height="4.0" fill="#000"/>
<rect x="288.04" y="410.84" width="4.0" height="4.0" fill="#000"/>
<rect x="393.19" y="412.54" width="4.0" height="4.0" fill="#000"/>
<circle cx="184.90" cy="260.82" r="2.2" fill="#ff0000"/>
<circle cx="193.66" cy="335.63" r="2.2" fill="#ff0000"/>
<circle cx="202.42" cy="356.81" r="2.2" fill="#ff0000"/>
<circle cx="211.19" cy="382.21" r="2.2" fill="#ff0000"/>
<circle cx="237.47" cy="400.56" r="2.2" fill="#ff0000"/>
<circle cx="290.04" cy="410.72" r="2.2" fill="#ff0000"/>
<circle cx="395.19" cy="413.12" r="2.2" fill="#ff0000"/>
<rect x="250.3" y="252.5" width="3.8" height="3.8" fill="#000"/>
<circle cx="252.2" cy="264.8" r="2.2" fill="#ff0000"/>
<text x="261.3" y="257.3" font-size="8.55">bis(PABA)ZrPc+DPBF</text>
<text x="261.3" y="267.8" font-size="8.55">bis(DAPA)ZrPc+DPBF</text>
<text class="cap" x="275.6" y="458.8" text-anchor="middle">(c)</text>
</g>
</svg></body></html>
